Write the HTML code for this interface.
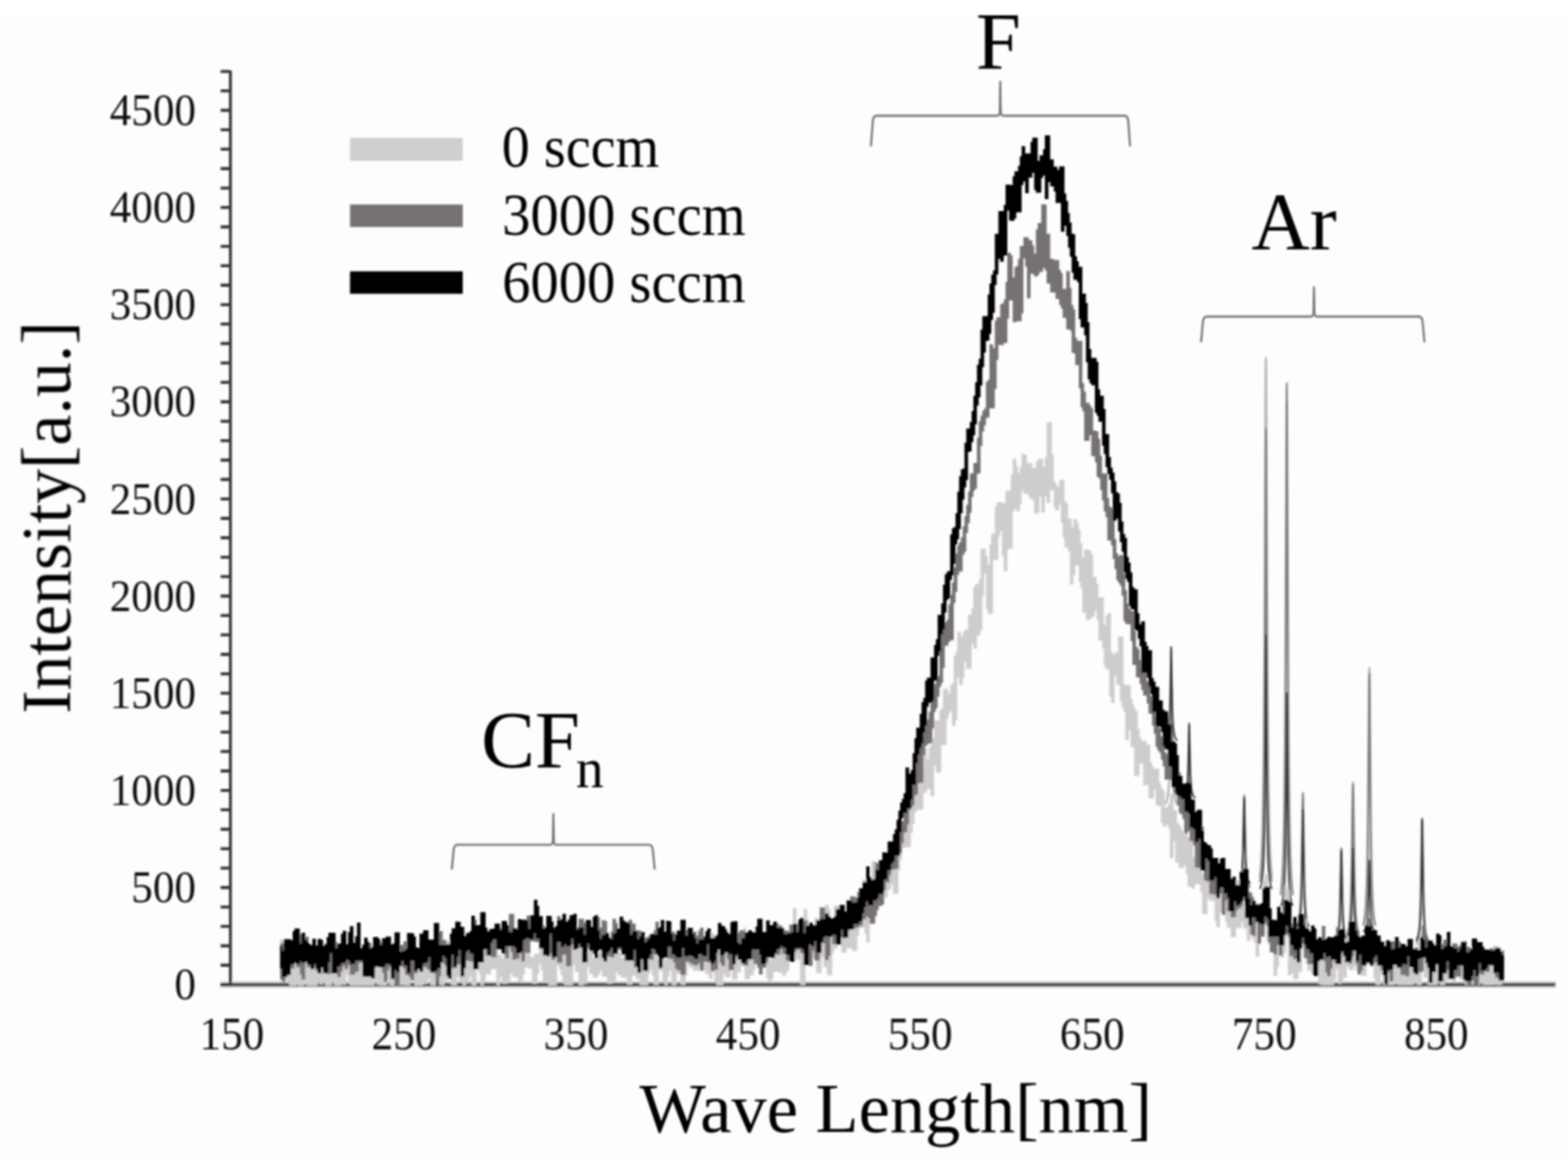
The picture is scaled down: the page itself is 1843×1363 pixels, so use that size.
<!DOCTYPE html><html><head><meta charset="utf-8"><title>OES spectrum</title><style>html,body{margin:0;padding:0;background:#fff;overflow:hidden}svg{display:block}</style></head><body><svg width="1843" height="1363" viewBox="0 0 1843 1363">
<rect width="1843" height="1363" fill="#fff"/>
<rect y="19.5" width="1843" height="1343.5" fill="#fdfdfd"/>
<defs><filter id="sf" x="-2%" y="-2%" width="104%" height="104%"><feGaussianBlur stdDeviation="0.8"/></filter></defs>
<g filter="url(#sf)">
<line x1="259.3" y1="1156.9" x2="1829" y2="1156.9" stroke="#c8c8c8" stroke-width="7.4"/>
<line x1="259.3" y1="1156.9" x2="1827.8" y2="1156.9" stroke="#4d4d4d" stroke-width="4"/>
<g>
<path d="M1369.6 945.2 1370.1 944.2 1370.6 943.0 1371.1 941.6 1371.6 939.9 1372.1 937.8 1372.6 935.1 1373.1 931.5 1373.6 926.7 1374.1 920.0 1374.6 910.3 1374.8 904.0 1375.1 896.6 1375.3 888.0 1375.6 878.6 1375.8 868.9 1376.1 860.2 1376.3 853.9 1376.6 851.6 1376.8 853.9 1377.1 860.2 1377.3 868.9 1377.6 878.6 1377.8 888.0 1378.1 896.6 1378.3 904.0 1378.6 910.3 1379.1 920.0 1379.6 926.7 1380.1 931.5 1380.6 935.1 1381.1 937.8 1381.6 939.9 1382.1 941.6 1382.6 943.0 1383.1 944.2 1383.6 945.2M1390.7 992.0 1391.2 991.1 1391.7 990.1 1392.2 988.9 1392.7 987.5 1393.2 985.8 1393.7 983.6 1394.2 980.8 1394.7 977.0 1395.2 971.6 1395.7 964.0 1396.0 959.1 1396.2 953.2 1396.5 946.5 1396.7 939.1 1397.0 931.5 1397.2 924.6 1397.5 919.7 1397.7 917.9 1398.0 919.7 1398.2 924.6 1398.5 931.5 1398.7 939.1 1399.0 946.5 1399.2 953.2 1399.5 959.1 1399.7 964.0 1400.2 971.6 1400.7 977.0 1401.2 980.8 1401.7 983.6 1402.2 985.8 1402.7 987.5 1403.2 988.9 1403.7 990.1 1404.2 991.1 1404.7 992.0M1455.4 1055.2 1455.9 1054.0 1456.4 1052.6 1456.9 1051.0 1457.4 1049.0 1457.9 1046.5 1458.4 1043.3 1458.9 1039.1 1459.4 1033.2 1459.9 1025.1 1460.4 1013.4 1460.7 1005.8 1460.9 996.8 1461.2 986.5 1461.4 975.1 1461.7 963.3 1461.9 952.7 1462.2 945.2 1462.4 942.4 1462.7 945.2 1462.9 952.7 1463.2 963.3 1463.4 975.1 1463.7 986.5 1463.9 996.8 1464.2 1005.8 1464.4 1013.4 1464.9 1025.1 1465.4 1033.2 1465.9 1039.1 1466.4 1043.3 1466.9 1046.5 1467.4 1049.0 1467.9 1051.0 1468.4 1052.6 1468.9 1054.0 1469.4 1055.2M1480.9 1031.2 1481.4 1026.1 1481.9 1019.8 1482.4 1012.1 1482.9 1002.3 1483.4 989.7 1483.9 973.1 1484.4 950.5 1484.9 919.3 1485.4 874.9 1485.9 811.0 1486.2 769.3 1486.4 720.1 1486.7 663.3 1486.9 600.5 1487.2 536.0 1487.4 477.7 1487.7 436.0 1487.9 420.7 1488.2 436.0 1488.4 477.7 1488.7 536.0 1488.9 600.5 1489.2 663.3 1489.4 720.1 1489.7 769.3 1489.9 811.0 1490.4 874.9 1490.9 919.3 1491.4 950.5 1491.9 973.1 1492.4 989.7 1492.9 1002.3 1493.4 1012.1 1493.9 1019.8 1494.4 1026.1 1494.9 1031.2M1505.5 1049.3 1506.0 1044.5 1506.5 1038.5 1507.0 1031.2 1507.5 1021.9 1508.0 1010.0 1508.5 994.2 1509.0 972.9 1509.5 943.4 1510.0 901.4 1510.5 841.1 1510.8 801.7 1511.0 755.1 1511.2 701.4 1511.5 642.0 1511.8 581.1 1512.0 525.9 1512.2 486.5 1512.5 472.1 1512.8 486.5 1513.0 525.9 1513.2 581.1 1513.5 642.0 1513.8 701.4 1514.0 755.1 1514.2 801.7 1514.5 841.1 1515.0 901.4 1515.5 943.4 1516.0 972.9 1516.5 994.2 1517.0 1010.0 1517.5 1021.9 1518.0 1031.2 1518.5 1038.5 1519.0 1044.5 1519.5 1049.3M1524.4 1094.4 1524.9 1092.9 1525.4 1091.0 1525.9 1088.9 1526.4 1086.2 1526.9 1082.8 1527.4 1078.4 1527.9 1072.6 1528.4 1064.5 1528.9 1053.2 1529.4 1036.9 1529.7 1026.3 1529.9 1013.8 1530.2 999.4 1530.4 983.4 1530.7 967.1 1530.9 952.3 1531.2 941.7 1531.4 937.8 1531.7 941.7 1531.9 952.3 1532.2 967.1 1532.4 983.4 1532.7 999.4 1532.9 1013.8 1533.2 1026.3 1533.4 1036.9 1533.9 1053.2 1534.4 1064.5 1534.9 1072.6 1535.4 1078.4 1535.9 1082.8 1536.4 1086.2 1536.9 1088.9 1537.4 1091.0 1537.9 1092.9 1538.4 1094.4M1569.6 1112.6 1570.1 1111.5 1570.6 1110.1 1571.1 1108.5 1571.6 1106.5 1572.1 1104.0 1572.6 1100.9 1573.1 1096.7 1573.6 1091.0 1574.1 1083.0 1574.6 1071.5 1574.8 1064.0 1575.1 1055.2 1575.3 1045.1 1575.6 1033.8 1575.8 1022.3 1576.1 1011.9 1576.3 1004.5 1576.6 1001.8 1576.8 1004.5 1577.1 1011.9 1577.3 1022.3 1577.6 1033.8 1577.8 1045.1 1578.1 1055.2 1578.3 1064.0 1578.6 1071.5 1579.1 1083.0 1579.6 1091.0 1580.1 1096.7 1580.6 1100.9 1581.1 1104.0 1581.6 1106.5 1582.1 1108.5 1582.6 1110.1 1583.1 1111.5 1583.6 1112.6M1583.3 1101.4 1583.8 1099.6 1584.3 1097.6 1584.8 1095.1 1585.3 1092.0 1585.8 1088.1 1586.3 1083.0 1586.8 1076.2 1587.3 1066.9 1587.8 1053.7 1588.3 1034.7 1588.5 1022.4 1588.8 1007.8 1589.0 991.0 1589.3 972.5 1589.5 953.4 1589.8 936.2 1590.0 923.8 1590.3 919.3 1590.5 923.8 1590.8 936.2 1591.0 953.4 1591.3 972.5 1591.5 991.0 1591.8 1007.8 1592.0 1022.4 1592.3 1034.7 1592.8 1053.7 1593.3 1066.9 1593.8 1076.2 1594.3 1083.0 1594.8 1088.1 1595.3 1092.0 1595.8 1095.1 1596.3 1097.6 1596.8 1099.6 1597.3 1101.4M1602.5 1088.2 1603.0 1085.5 1603.5 1082.2 1604.0 1078.2 1604.5 1073.3 1605.0 1066.9 1605.5 1058.6 1606.0 1047.3 1606.5 1031.8 1607.0 1009.8 1607.5 978.1 1607.8 957.5 1608.0 933.2 1608.2 905.0 1608.5 874.0 1608.8 842.1 1609.0 813.2 1609.2 792.6 1609.5 785.1 1609.8 792.6 1610.0 813.2 1610.2 842.1 1610.5 874.0 1610.8 905.0 1611.0 933.2 1611.2 957.5 1611.5 978.1 1612.0 1009.8 1612.5 1031.8 1613.0 1047.3 1613.5 1058.6 1614.0 1066.9 1614.5 1073.3 1615.0 1078.2 1615.5 1082.2 1616.0 1085.5 1616.5 1088.2M1664.6 1110.5 1665.1 1109.1 1665.6 1107.4 1666.1 1105.3 1666.6 1102.8 1667.1 1099.7 1667.6 1095.6 1668.1 1090.2 1668.6 1082.7 1669.1 1072.2 1669.6 1057.1 1669.8 1047.2 1670.1 1035.6 1670.3 1022.3 1670.6 1007.5 1670.8 992.3 1671.1 978.6 1671.3 968.8 1671.6 965.2 1671.8 968.8 1672.1 978.6 1672.3 992.3 1672.6 1007.5 1672.8 1022.3 1673.1 1035.6 1673.3 1047.2 1673.6 1057.1 1674.1 1072.2 1674.6 1082.7 1675.1 1090.2 1675.6 1095.6 1676.1 1099.7 1676.6 1102.8 1677.1 1105.3 1677.6 1107.4 1678.1 1109.1 1678.6 1110.5" fill="none" stroke="#b8b5b6" stroke-width="2.6" stroke-linejoin="round"/>
<path d="M1369.6 895.5 1370.1 894.7 1370.6 893.9 1371.1 892.8 1371.6 891.7 1372.1 890.2 1372.6 888.3 1373.1 885.8 1373.6 882.3 1374.1 877.1 1374.6 869.0 1374.8 863.3 1375.1 856.0 1375.3 846.8 1375.6 835.4 1375.8 822.1 1376.1 808.4 1376.3 797.5 1376.6 793.2 1376.8 797.5 1377.1 808.4 1377.3 822.1 1377.6 835.4 1377.8 846.8 1378.1 856.0 1378.3 863.3 1378.6 869.0 1379.1 877.1 1379.6 882.3 1380.1 885.8 1380.6 888.3 1381.1 890.2 1381.6 891.7 1382.1 892.8 1382.6 893.9 1383.1 894.7 1383.6 895.5M1390.7 956.6 1391.2 955.9 1391.7 955.2 1392.2 954.3 1392.7 953.3 1393.2 952.1 1393.7 950.5 1394.2 948.5 1394.7 945.6 1395.2 941.4 1395.7 934.9 1396.0 930.4 1396.2 924.5 1396.5 917.1 1396.7 908.0 1397.0 897.4 1397.2 886.5 1397.5 877.7 1397.7 874.3 1398.0 877.7 1398.2 886.5 1398.5 897.4 1398.7 908.0 1399.0 917.1 1399.2 924.5 1399.5 930.4 1399.7 934.9 1400.2 941.4 1400.7 945.6 1401.2 948.5 1401.7 950.5 1402.2 952.1 1402.7 953.3 1403.2 954.3 1403.7 955.2 1404.2 955.9 1404.7 956.6M1455.4 1042.6 1455.9 1041.8 1456.4 1040.9 1456.9 1039.8 1457.4 1038.6 1457.9 1037.0 1458.4 1035.0 1458.9 1032.4 1459.4 1028.7 1459.9 1023.2 1460.4 1014.6 1460.7 1008.6 1460.9 1000.9 1461.2 991.1 1461.4 979.1 1461.7 965.0 1461.9 950.5 1462.2 938.9 1462.4 934.4 1462.7 938.9 1462.9 950.5 1463.2 965.0 1463.4 979.1 1463.7 991.1 1463.9 1000.9 1464.2 1008.6 1464.4 1014.6 1464.9 1023.2 1465.4 1028.7 1465.9 1032.4 1466.4 1035.0 1466.9 1037.0 1467.4 1038.6 1467.9 1039.8 1468.4 1040.9 1468.9 1041.8 1469.4 1042.6M1480.9 1036.3 1481.4 1033.6 1481.9 1030.2 1482.4 1026.1 1482.9 1020.9 1483.4 1014.2 1483.9 1005.2 1484.4 992.6 1484.9 974.6 1485.4 947.6 1485.9 905.2 1486.2 875.1 1486.4 836.7 1486.7 787.9 1486.9 727.6 1487.2 657.3 1487.4 584.7 1487.7 526.7 1487.9 504.1 1488.2 526.7 1488.4 584.7 1488.7 657.3 1488.9 727.6 1489.2 787.9 1489.4 836.7 1489.7 875.1 1489.9 905.2 1490.4 947.6 1490.9 974.6 1491.4 992.6 1491.9 1005.2 1492.4 1014.2 1492.9 1020.9 1493.4 1026.1 1493.9 1030.2 1494.4 1033.6 1494.9 1036.3M1505.5 1052.0 1506.0 1048.9 1506.5 1045.2 1507.0 1040.6 1507.5 1034.8 1508.0 1027.2 1508.5 1017.0 1509.0 1002.8 1509.5 982.5 1510.0 951.9 1510.5 904.0 1510.8 869.9 1511.0 826.5 1511.2 771.3 1511.5 703.1 1511.8 623.5 1512.0 541.5 1512.2 475.8 1512.5 450.2 1512.8 475.8 1513.0 541.5 1513.2 623.5 1513.5 703.1 1513.8 771.3 1514.0 826.5 1514.2 869.9 1514.5 904.0 1515.0 951.9 1515.5 982.5 1516.0 1002.8 1516.5 1017.0 1517.0 1027.2 1517.5 1034.8 1518.0 1040.6 1518.5 1045.2 1519.0 1048.9 1519.5 1052.0M1524.4 1088.1 1524.9 1087.0 1525.4 1085.8 1525.9 1084.4 1526.4 1082.7 1526.9 1080.6 1527.4 1077.8 1527.9 1074.0 1528.4 1068.7 1528.9 1060.7 1529.4 1048.4 1529.7 1039.6 1529.9 1028.4 1530.2 1014.2 1530.4 996.6 1530.7 976.2 1530.9 955.1 1531.2 938.3 1531.4 931.7 1531.7 938.3 1531.9 955.1 1532.2 976.2 1532.4 996.6 1532.7 1014.2 1532.9 1028.4 1533.2 1039.6 1533.4 1048.4 1533.9 1060.7 1534.4 1068.7 1534.9 1074.0 1535.4 1077.8 1535.9 1080.6 1536.4 1082.7 1536.9 1084.4 1537.4 1085.8 1537.9 1087.0 1538.4 1088.1M1569.6 1105.0 1570.1 1104.1 1570.6 1103.2 1571.1 1102.2 1571.6 1100.9 1572.1 1099.4 1572.6 1097.4 1573.1 1094.7 1573.6 1091.0 1574.1 1085.5 1574.6 1076.9 1574.8 1070.8 1575.1 1063.1 1575.3 1053.3 1575.6 1041.3 1575.8 1027.2 1576.1 1012.7 1576.3 1001.0 1576.6 996.5 1576.8 1001.0 1577.1 1012.7 1577.3 1027.2 1577.6 1041.3 1577.8 1053.3 1578.1 1063.1 1578.3 1070.8 1578.6 1076.9 1579.1 1085.5 1579.6 1091.0 1580.1 1094.7 1580.6 1097.4 1581.1 1099.4 1581.6 1100.9 1582.1 1102.2 1582.6 1103.2 1583.1 1104.1 1583.6 1105.0M1583.3 1096.4 1583.8 1095.3 1584.3 1094.0 1584.8 1092.5 1585.3 1090.6 1585.8 1088.2 1586.3 1085.2 1586.8 1081.0 1587.3 1075.0 1587.8 1066.1 1588.3 1052.3 1588.5 1042.5 1588.8 1030.0 1589.0 1014.1 1589.3 994.5 1589.5 971.6 1589.8 948.1 1590.0 929.2 1590.3 921.9 1590.5 929.2 1590.8 948.1 1591.0 971.6 1591.3 994.5 1591.5 1014.1 1591.8 1030.0 1592.0 1042.5 1592.3 1052.3 1592.8 1066.1 1593.3 1075.0 1593.8 1081.0 1594.3 1085.2 1594.8 1088.2 1595.3 1090.6 1595.8 1092.5 1596.3 1094.0 1596.8 1095.3 1597.3 1096.4M1602.5 1086.9 1603.0 1085.2 1603.5 1083.2 1604.0 1080.8 1604.5 1077.9 1605.0 1074.0 1605.5 1068.9 1606.0 1061.9 1606.5 1051.9 1607.0 1036.9 1607.5 1013.4 1607.8 996.8 1608.0 975.5 1608.2 948.6 1608.5 915.2 1608.8 876.4 1609.0 836.3 1609.2 804.3 1609.5 791.7 1609.8 804.3 1610.0 836.3 1610.2 876.4 1610.5 915.2 1610.8 948.6 1611.0 975.5 1611.2 996.8 1611.5 1013.4 1612.0 1036.9 1612.5 1051.9 1613.0 1061.9 1613.5 1068.9 1614.0 1074.0 1614.5 1077.9 1615.0 1080.8 1615.5 1083.2 1616.0 1085.2 1616.5 1086.9M1664.6 1104.6 1665.1 1103.6 1665.6 1102.5 1666.1 1101.2 1666.6 1099.6 1667.1 1097.7 1667.6 1095.1 1668.1 1091.7 1668.6 1086.8 1669.1 1079.5 1669.6 1068.2 1669.8 1060.1 1670.1 1049.9 1670.3 1036.9 1670.6 1020.9 1670.8 1002.2 1671.1 983.0 1671.3 967.6 1671.6 961.6 1671.8 967.6 1672.1 983.0 1672.3 1002.2 1672.6 1020.9 1672.8 1036.9 1673.1 1049.9 1673.3 1060.1 1673.6 1068.2 1674.1 1079.5 1674.6 1086.8 1675.1 1091.7 1675.6 1095.1 1676.1 1097.7 1676.6 1099.6 1677.1 1101.2 1677.6 1102.5 1678.1 1103.6 1678.6 1104.6" fill="none" stroke="#7f7a7b" stroke-width="2.0" stroke-linejoin="round"/>
<path d="M1369.6 870.2 1370.1 869.5 1370.6 868.8 1371.1 867.9 1371.6 866.9 1372.1 865.8 1372.6 864.2 1373.1 862.2 1373.6 859.4 1374.1 855.1 1374.6 848.2 1374.8 843.1 1375.1 836.3 1375.3 827.2 1375.6 815.1 1375.8 799.8 1376.1 782.2 1376.3 766.7 1376.6 760.3 1376.8 766.7 1377.1 782.2 1377.3 799.8 1377.6 815.1 1377.8 827.2 1378.1 836.3 1378.3 843.1 1378.6 848.2 1379.1 855.1 1379.6 859.4 1380.1 862.2 1380.6 864.2 1381.1 865.8 1381.6 866.9 1382.1 867.9 1382.6 868.8 1383.1 869.5 1383.6 870.2M1390.7 937.7 1391.2 937.1 1391.7 936.4 1392.2 935.7 1392.7 934.9 1393.2 933.9 1393.7 932.6 1394.2 931.0 1394.7 928.7 1395.2 925.3 1395.7 919.8 1396.0 915.7 1396.2 910.3 1396.5 903.1 1396.7 893.6 1397.0 881.4 1397.2 867.5 1397.5 855.3 1397.7 850.2 1398.0 855.3 1398.2 867.5 1398.5 881.4 1398.7 893.6 1399.0 903.1 1399.2 910.3 1399.5 915.7 1399.7 919.8 1400.2 925.3 1400.7 928.7 1401.2 931.0 1401.7 932.6 1402.2 933.9 1402.7 934.9 1403.2 935.7 1403.7 936.4 1404.2 937.1 1404.7 937.7M1455.4 1038.3 1455.9 1037.6 1456.4 1036.9 1456.9 1036.1 1457.4 1035.2 1457.9 1034.1 1458.4 1032.7 1458.9 1030.9 1459.4 1028.2 1459.9 1024.3 1460.4 1018.0 1460.7 1013.3 1460.9 1007.1 1461.2 998.8 1461.4 987.9 1461.7 973.8 1461.9 957.8 1462.2 943.7 1462.4 937.8 1462.7 943.7 1462.9 957.8 1463.2 973.8 1463.4 987.9 1463.7 998.8 1463.9 1007.1 1464.2 1013.3 1464.4 1018.0 1464.9 1024.3 1465.4 1028.2 1465.9 1030.9 1466.4 1032.7 1466.9 1034.1 1467.4 1035.2 1467.9 1036.1 1468.4 1036.9 1468.9 1037.6 1469.4 1038.3M1480.9 1044.5 1481.4 1043.2 1481.9 1041.7 1482.4 1039.9 1482.9 1037.7 1483.4 1034.9 1483.9 1031.1 1484.4 1025.9 1484.9 1018.3 1485.4 1006.7 1485.9 987.8 1486.2 973.9 1486.4 955.2 1486.7 930.3 1486.9 897.1 1487.2 854.8 1487.4 806.5 1487.7 763.8 1487.9 746.1 1488.2 763.8 1488.4 806.5 1488.7 854.8 1488.9 897.1 1489.2 930.3 1489.4 955.2 1489.7 973.9 1489.9 987.8 1490.4 1006.7 1490.9 1018.3 1491.4 1025.9 1491.9 1031.1 1492.4 1034.9 1492.9 1037.7 1493.4 1039.9 1493.9 1041.7 1494.4 1043.2 1494.9 1044.5M1505.5 1064.3 1506.0 1063.2 1506.5 1061.9 1507.0 1060.3 1507.5 1058.4 1508.0 1056.0 1508.5 1052.8 1509.0 1048.5 1509.5 1042.1 1510.0 1032.4 1510.5 1016.6 1510.8 1004.9 1511.0 989.4 1511.2 968.5 1511.5 940.8 1511.8 905.4 1512.0 865.0 1512.2 829.4 1512.5 814.5 1512.8 829.4 1513.0 865.0 1513.2 905.4 1513.5 940.8 1513.8 968.5 1514.0 989.4 1514.2 1004.9 1514.5 1016.6 1515.0 1032.4 1515.5 1042.1 1516.0 1048.5 1516.5 1052.8 1517.0 1056.0 1517.5 1058.4 1518.0 1060.3 1518.5 1061.9 1519.0 1063.2 1519.5 1064.3M1524.4 1088.7 1524.9 1087.9 1525.4 1087.0 1525.9 1086.0 1526.4 1084.9 1526.9 1083.5 1527.4 1081.6 1527.9 1079.2 1528.4 1075.6 1528.9 1070.3 1529.4 1061.6 1529.7 1055.2 1529.9 1046.7 1530.2 1035.4 1530.4 1020.3 1530.7 1001.0 1530.9 979.0 1531.2 959.6 1531.4 951.5 1531.7 959.6 1531.9 979.0 1532.2 1001.0 1532.4 1020.3 1532.7 1035.4 1532.9 1046.7 1533.2 1055.2 1533.4 1061.6 1533.9 1070.3 1534.4 1075.6 1534.9 1079.2 1535.4 1081.6 1535.9 1083.5 1536.4 1084.9 1536.9 1086.0 1537.4 1087.0 1537.9 1087.9 1538.4 1088.7M1569.6 1104.9 1570.1 1104.2 1570.6 1103.5 1571.1 1102.6 1571.6 1101.7 1572.1 1100.6 1572.6 1099.1 1573.1 1097.2 1573.6 1094.4 1574.1 1090.3 1574.6 1083.7 1574.8 1078.8 1575.1 1072.3 1575.3 1063.6 1575.6 1052.0 1575.8 1037.3 1576.1 1020.5 1576.3 1005.7 1576.6 999.5 1576.8 1005.7 1577.1 1020.5 1577.3 1037.3 1577.6 1052.0 1577.8 1063.6 1578.1 1072.3 1578.3 1078.8 1578.6 1083.7 1579.1 1090.3 1579.6 1094.4 1580.1 1097.2 1580.6 1099.1 1581.1 1100.6 1581.6 1101.7 1582.1 1102.6 1582.6 1103.5 1583.1 1104.2 1583.6 1104.9M1583.3 1099.4 1583.8 1098.7 1584.3 1098.0 1584.8 1097.2 1585.3 1096.3 1585.8 1095.2 1586.3 1093.7 1586.8 1091.9 1587.3 1089.2 1587.8 1085.2 1588.3 1078.8 1588.5 1074.0 1588.8 1067.7 1589.0 1059.3 1589.3 1048.1 1589.5 1033.8 1589.8 1017.5 1590.0 1003.2 1590.3 997.2 1590.5 1003.2 1590.8 1017.5 1591.0 1033.8 1591.3 1048.1 1591.5 1059.3 1591.8 1067.7 1592.0 1074.0 1592.3 1078.8 1592.8 1085.2 1593.3 1089.2 1593.8 1091.9 1594.3 1093.7 1594.8 1095.2 1595.3 1096.3 1595.8 1097.2 1596.3 1098.0 1596.8 1098.7 1597.3 1099.4M1602.5 1094.8 1603.0 1094.2 1603.5 1093.5 1604.0 1092.8 1604.5 1092.0 1605.0 1091.1 1605.5 1089.9 1606.0 1088.3 1606.5 1086.1 1607.0 1082.8 1607.5 1077.5 1607.8 1073.6 1608.0 1068.5 1608.2 1061.6 1608.5 1052.5 1608.8 1040.8 1609.0 1027.5 1609.2 1015.8 1609.5 1010.9 1609.8 1015.8 1610.0 1027.5 1610.2 1040.8 1610.5 1052.5 1610.8 1061.6 1611.0 1068.5 1611.2 1073.6 1611.5 1077.5 1612.0 1082.8 1612.5 1086.1 1613.0 1088.3 1613.5 1089.9 1614.0 1091.1 1614.5 1092.0 1615.0 1092.8 1615.5 1093.5 1616.0 1094.2 1616.5 1094.8M1664.6 1106.0 1665.1 1105.2 1665.6 1104.3 1666.1 1103.3 1666.6 1102.1 1667.1 1100.6 1667.6 1098.7 1668.1 1096.2 1668.6 1092.5 1669.1 1086.9 1669.6 1077.9 1669.8 1071.2 1670.1 1062.3 1670.3 1050.5 1670.6 1034.7 1670.8 1014.6 1671.1 991.6 1671.3 971.4 1671.6 962.9 1671.8 971.4 1672.1 991.6 1672.3 1014.6 1672.6 1034.7 1672.8 1050.5 1673.1 1062.3 1673.3 1071.2 1673.6 1077.9 1674.1 1086.9 1674.6 1092.5 1675.1 1096.2 1675.6 1098.7 1676.1 1100.6 1676.6 1102.1 1677.1 1103.3 1677.6 1104.3 1678.1 1105.2 1678.6 1106.0" fill="none" stroke="#333" stroke-width="1.9" stroke-linejoin="round"/>
<path d="M329.3 1104.0h2.1v40.4h-2.1zm2.1 0.0h2.1v40.4h-2.1zm2.1 0.0h2.1v34.3h-2.1zm2.1 1.7h2.1v45.7h-2.1zm2.1 0.0h2.1v48.3h-2.1zm2.1 20.9h2.1v32.0h-2.1zm2.1 8.5h2.1v23.4h-2.1zm2.1 0.0h2.1v23.4h-2.1zm2.1 -1.9h2.1v25.3h-2.1zm2.1 -5.2h2.1v29.3h-2.1zm2.1 0.0h2.1v30.5h-2.1zm2.1 14.0h2.1v16.4h-2.1zm2.1 -4.9h2.1v21.3h-2.1zm2.1 -15.3h2.1v35.3h-2.1zm2.1 -18.7h2.1v54.0h-2.1zm2.1 0.0h2.1v55.3h-2.1zm2.1 30.3h2.1v25.0h-2.1zm2.1 0.0h2.1v25.0h-2.1zm2.1 3.7h2.1v21.3h-2.1zm2.1 -4.5h2.1v25.7h-2.1zm2.1 -2.3h2.1v28.1h-2.1zm2.1 -2.9h2.1v28.2h-2.1zm2.1 0.0h2.1v29.6h-2.1zm2.1 14.1h2.1v15.5h-2.1zm2.1 -4.6h2.1v16.7h-2.1zm2.1 0.0h2.1v21.5h-2.1zm2.1 -4.9h2.1v26.4h-2.1zm2.1 0.0h2.1v26.4h-2.1zm2.1 -12.0h2.1v38.4h-2.1zm2.1 0.0h2.1v33.6h-2.1zm2.1 10.9h2.1v27.4h-2.1zm2.1 0.0h2.1v27.4h-2.1zm2.1 0.9h2.1v26.5h-2.1zm2.1 -0.5h2.1v27.0h-2.1zm2.1 0.0h2.1v26.0h-2.1zm2.1 -18.0h2.1v43.9h-2.1zm2.1 0.0h2.1v43.9h-2.1zm2.1 0.0h2.1v32.7h-2.1zm2.1 9.6h2.1v33.6h-2.1zm2.1 0.0h2.1v35.3h-2.1zm2.1 4.3h2.1v31.0h-2.1zm2.1 10.9h2.1v20.1h-2.1zm2.1 -10.1h2.1v30.2h-2.1zm2.1 -17.7h2.1v47.8h-2.1zm2.1 0.0h2.1v47.8h-2.1zm2.1 8.2h2.1v39.6h-2.1zm2.1 14.6h2.1v25.0h-2.1zm2.1 4.2h2.1v20.8h-2.1zm2.1 3.3h2.1v17.5h-2.1zm2.1 -6.4h2.1v23.9h-2.1zm2.1 0.0h2.1v23.9h-2.1zm2.1 0.0h2.1v23.9h-2.1zm2.1 -1.3h2.1v25.2h-2.1zm2.1 -11.4h2.1v31.1h-2.1zm2.1 -5.7h2.1v41.7h-2.1zm2.1 0.0h2.1v41.7h-2.1zm2.1 0.0h2.1v42.3h-2.1zm2.1 3.1h2.1v39.2h-2.1zm2.1 6.3h2.1v32.9h-2.1zm2.1 12.7h2.1v20.2h-2.1zm2.1 0.0h2.1v13.5h-2.1zm2.1 -5.1h2.1v25.2h-2.1zm2.1 -1.4h2.1v26.6h-2.1zm2.1 0.0h2.1v26.6h-2.1zm2.1 -3.3h2.1v29.9h-2.1zm2.1 -2.7h2.1v32.6h-2.1zm2.1 0.0h2.1v32.6h-2.1zm2.1 4.1h2.1v28.5h-2.1zm2.1 0.0h2.1v27.4h-2.1zm2.1 -4.1h2.1v32.6h-2.1zm2.1 -0.9h2.1v33.4h-2.1zm2.1 -2.9h2.1v36.4h-2.1zm2.1 -15.2h2.1v51.6h-2.1zm2.1 0.0h2.1v40.8h-2.1zm2.1 15.6h2.1v27.3h-2.1zm2.1 6.1h2.1v29.8h-2.1zm2.1 11.2h2.1v18.7h-2.1zm2.1 -8.5h2.1v27.2h-2.1zm2.1 0.0h2.1v27.2h-2.1zm2.1 -5.9h2.1v33.0h-2.1zm2.1 -15.8h2.1v47.5h-2.1zm2.1 0.0h2.1v47.5h-2.1zm2.1 0.0h2.1v46.9h-2.1zm2.1 16.5h2.1v24.7h-2.1zm2.1 0.0h2.1v32.3h-2.1zm2.1 -7.4h2.1v39.7h-2.1zm2.1 0.0h2.1v39.7h-2.1zm2.1 -0.6h2.1v37.1h-2.1zm2.1 0.0h2.1v35.5h-2.1zm2.1 0.0h2.1v40.0h-2.1zm2.1 7.5h2.1v32.8h-2.1zm2.1 0.0h2.1v32.8h-2.1zm2.1 -14.3h2.1v41.4h-2.1zm2.1 -5.2h2.1v46.6h-2.1zm2.1 0.0h2.1v43.5h-2.1zm2.1 10.0h2.1v40.8h-2.1zm2.1 3.8h2.1v38.5h-2.1zm2.1 3.0h2.1v35.6h-2.1zm2.1 -15.1h2.1v50.7h-2.1zm2.1 0.0h2.1v40.5h-2.1zm2.1 5.4h2.1v40.7h-2.1zm2.1 -7.0h2.1v47.8h-2.1zm2.1 0.0h2.1v52.3h-2.1zm2.1 0.0h2.1v52.3h-2.1zm2.1 2.4h2.1v47.3h-2.1zm2.1 -7.6h2.1v54.9h-2.1zm2.1 0.0h2.1v47.1h-2.1zm2.1 9.9h2.1v47.6h-2.1zm2.1 17.8h2.1v29.9h-2.1zm2.1 -3.0h2.1v32.9h-2.1zm2.1 -0.7h2.1v12.7h-2.1zm2.1 0.0h2.1v19.3h-2.1zm2.1 -27.9h2.1v61.5h-2.1zm2.1 0.0h2.1v61.5h-2.1zm2.1 0.0h2.1v58.1h-2.1zm2.1 5.4h2.1v42.8h-2.1zm2.1 15.9h2.1v26.8h-2.1zm2.1 -0.5h2.1v27.3h-2.1zm2.1 -19.4h2.1v40.7h-2.1zm2.1 0.0h2.1v40.7h-2.1zm2.1 10.4h2.1v30.3h-2.1zm2.1 0.0h2.1v49.6h-2.1zm2.1 13.7h2.1v35.9h-2.1zm2.1 0.0h2.1v26.1h-2.1zm2.1 4.4h2.1v29.5h-2.1zm2.1 -5.7h2.1v35.2h-2.1zm2.1 -1.8h2.1v37.0h-2.1zm2.1 -10.8h2.1v44.4h-2.1zm2.1 -6.3h2.1v50.7h-2.1zm2.1 0.0h2.1v41.6h-2.1zm2.1 12.0h2.1v34.3h-2.1zm2.1 0.0h2.1v34.3h-2.1zm2.1 10.1h2.1v24.2h-2.1zm2.1 0.0h2.1v29.6h-2.1zm2.1 -15.3h2.1v44.9h-2.1zm2.1 -0.4h2.1v44.0h-2.1zm2.1 0.0h2.1v36.2h-2.1zm2.1 -9.7h2.1v38.1h-2.1zm2.1 0.0h2.1v38.1h-2.1zm2.1 0.0h2.1v40.0h-2.1zm2.1 25.5h2.1v14.5h-2.1zm2.1 0.9h2.1v31.1h-2.1zm2.1 -4.6h2.1v35.7h-2.1zm2.1 0.0h2.1v35.7h-2.1zm2.1 0.0h2.1v23.9h-2.1zm2.1 -10.9h2.1v23.6h-2.1zm2.1 0.0h2.1v30.9h-2.1zm2.1 0.0h2.1v45.2h-2.1zm2.1 0.2h2.1v45.0h-2.1zm2.1 0.0h2.1v43.0h-2.1zm2.1 2.5h2.1v45.8h-2.1zm2.1 -2.6h2.1v48.3h-2.1zm2.1 0.0h2.1v48.3h-2.1zm2.1 -12.1h2.1v60.4h-2.1zm2.1 -4.1h2.1v64.4h-2.1zm2.1 0.0h2.1v40.9h-2.1zm2.1 5.7h2.1v39.8h-2.1zm2.1 2.4h2.1v44.4h-2.1zm2.1 0.0h2.1v54.2h-2.1zm2.1 0.0h2.1v56.3h-2.1zm2.1 14.3h2.1v42.0h-2.1zm2.1 0.0h2.1v42.0h-2.1zm2.1 -7.2h2.1v49.2h-2.1zm2.1 -4.8h2.1v54.0h-2.1zm2.1 0.0h2.1v29.8h-2.1zm2.1 3.0h2.1v35.3h-2.1zm2.1 -2.9h2.1v38.2h-2.1zm2.1 0.0h2.1v53.8h-2.1zm2.1 0.0h2.1v53.8h-2.1zm2.1 8.7h2.1v45.1h-2.1zm2.1 6.2h2.1v37.4h-2.1zm2.1 0.0h2.1v37.4h-2.1zm2.1 -1.1h2.1v18.6h-2.1zm2.1 -0.9h2.1v27.5h-2.1zm2.1 0.0h2.1v27.5h-2.1zm2.1 8.7h2.1v22.9h-2.1zm2.1 -6.3h2.1v29.2h-2.1zm2.1 0.0h2.1v29.2h-2.1zm2.1 0.0h2.1v26.0h-2.1zm2.1 -14.7h2.1v35.8h-2.1zm2.1 0.0h2.1v42.8h-2.1zm2.1 7.0h2.1v36.5h-2.1zm2.1 11.2h2.1v25.2h-2.1zm2.1 -2.0h2.1v35.3h-2.1zm2.1 0.0h2.1v35.3h-2.1zm2.1 2.4h2.1v32.9h-2.1zm2.1 -17.6h2.1v47.2h-2.1zm2.1 -18.2h2.1v65.3h-2.1zm2.1 0.0h2.1v55.3h-2.1zm2.1 31.3h2.1v27.4h-2.1zm2.1 1.4h2.1v26.1h-2.1zm2.1 5.7h2.1v23.3h-2.1zm2.1 -6.5h2.1v29.8h-2.1zm2.1 0.0h2.1v29.8h-2.1zm2.1 5.1h2.1v32.8h-2.1zm2.1 2.7h2.1v30.1h-2.1zm2.1 -3.5h2.1v33.5h-2.1zm2.1 -4.0h2.1v26.7h-2.1zm2.1 0.0h2.1v26.7h-2.1zm2.1 -1.5h2.1v31.9h-2.1zm2.1 -5.1h2.1v37.0h-2.1zm2.1 -18.7h2.1v63.6h-2.1zm2.1 0.0h2.1v63.6h-2.1zm2.1 28.7h2.1v34.8h-2.1zm2.1 10.5h2.1v24.3h-2.1zm2.1 -14.5h2.1v38.8h-2.1zm2.1 0.0h2.1v26.2h-2.1zm2.1 -10.8h2.1v31.9h-2.1zm2.1 -1.2h2.1v39.3h-2.1zm2.1 0.0h2.1v50.7h-2.1zm2.1 0.0h2.1v50.7h-2.1zm2.1 19.3h2.1v31.5h-2.1zm2.1 -10.1h2.1v23.9h-2.1zm2.1 0.0h2.1v25.5h-2.1zm2.1 6.0h2.1v31.3h-2.1zm2.1 6.0h2.1v29.6h-2.1zm2.1 -41.4h2.1v71.0h-2.1zm2.1 0.0h2.1v60.2h-2.1zm2.1 0.0h2.1v54.0h-2.1zm2.1 17.7h2.1v53.3h-2.1zm2.1 12.2h2.1v41.1h-2.1zm2.1 0.0h2.1v41.1h-2.1zm2.1 -12.1h2.1v39.4h-2.1zm2.1 0.0h2.1v39.4h-2.1zm2.1 0.5h2.1v52.2h-2.1zm2.1 23.1h2.1v29.1h-2.1zm2.1 -16.1h2.1v45.2h-2.1zm2.1 0.0h2.1v34.0h-2.1zm2.1 -15.8h2.1v37.4h-2.1zm2.1 0.0h2.1v40.9h-2.1zm2.1 22.4h2.1v18.5h-2.1zm2.1 2.6h2.1v19.2h-2.1zm2.1 5.7h2.1v13.4h-2.1zm2.1 -11.0h2.1v24.5h-2.1zm2.1 -3.3h2.1v27.6h-2.1zm2.1 -1.5h2.1v25.1h-2.1zm2.1 0.0h2.1v29.4h-2.1zm2.1 9.1h2.1v20.2h-2.1zm2.1 0.0h2.1v24.5h-2.1zm2.1 1.9h2.1v22.6h-2.1zm2.1 -15.4h2.1v43.0h-2.1zm2.1 -10.3h2.1v53.3h-2.1zm2.1 0.0h2.1v46.0h-2.1zm2.1 14.0h2.1v43.3h-2.1zm2.1 2.4h2.1v44.9h-2.1zm2.1 0.5h2.1v44.4h-2.1zm2.1 2.3h2.1v42.1h-2.1zm2.1 -24.6h2.1v66.7h-2.1zm2.1 0.0h2.1v53.2h-2.1zm2.1 7.6h2.1v49.9h-2.1zm2.1 2.7h2.1v47.2h-2.1zm2.1 -3.9h2.1v51.2h-2.1zm2.1 0.0h2.1v41.8h-2.1zm2.1 0.8h2.1v52.9h-2.1zm2.1 18.1h2.1v34.8h-2.1zm2.1 0.5h2.1v34.3h-2.1zm2.1 0.0h2.1v25.7h-2.1zm2.1 -1.3h2.1v27.0h-2.1zm2.1 -15.0h2.1v34.5h-2.1zm2.1 -10.1h2.1v34.5h-2.1zm2.1 0.0h2.1v60.0h-2.1zm2.1 21.4h2.1v38.6h-2.1zm2.1 11.4h2.1v27.2h-2.1zm2.1 2.5h2.1v20.3h-2.1zm2.1 -29.8h2.1v50.1h-2.1zm2.1 -2.7h2.1v46.3h-2.1zm2.1 0.0h2.1v33.0h-2.1zm2.1 15.0h2.1v22.3h-2.1zm2.1 0.0h2.1v26.2h-2.1zm2.1 -1.8h2.1v27.9h-2.1zm2.1 -9.4h2.1v37.3h-2.1zm2.1 0.0h2.1v31.6h-2.1zm2.1 8.1h2.1v44.2h-2.1zm2.1 11.1h2.1v37.3h-2.1zm2.1 11.6h2.1v25.6h-2.1zm2.1 -16.0h2.1v38.9h-2.1zm2.1 0.0h2.1v30.0h-2.1zm2.1 -18.3h2.1v48.3h-2.1zm2.1 0.0h2.1v48.3h-2.1zm2.1 2.8h2.1v46.6h-2.1zm2.1 10.7h2.1v35.9h-2.1zm2.1 -13.7h2.1v53.5h-2.1zm2.1 0.0h2.1v53.5h-2.1zm2.1 0.0h2.1v49.4h-2.1zm2.1 13.8h2.1v32.9h-2.1zm2.1 -20.6h2.1v31.4h-2.1zm2.1 0.0h2.1v29.9h-2.1zm2.1 -19.5h2.1v44.0h-2.1zm2.1 0.0h2.1v60.6h-2.1zm2.1 30.4h2.1v30.1h-2.1zm2.1 -2.4h2.1v32.5h-2.1zm2.1 0.0h2.1v62.6h-2.1zm2.1 -0.1h2.1v62.7h-2.1zm2.1 -26.7h2.1v89.3h-2.1zm2.1 0.0h2.1v47.4h-2.1zm2.1 12.6h2.1v40.8h-2.1zm2.1 4.2h2.1v36.7h-2.1zm2.1 0.0h2.1v40.0h-2.1zm2.1 8.0h2.1v32.0h-2.1zm2.1 -14.8h2.1v49.3h-2.1zm2.1 0.0h2.1v65.1h-2.1zm2.1 1.8h2.1v63.3h-2.1zm2.1 0.0h2.1v63.3h-2.1zm2.1 0.0h2.1v44.6h-2.1zm2.1 5.9h2.1v50.8h-2.1zm2.1 -23.0h2.1v73.7h-2.1zm2.1 0.0h2.1v82.8h-2.1zm2.1 4.5h2.1v78.4h-2.1zm2.1 21.4h2.1v56.9h-2.1zm2.1 0.0h2.1v31.2h-2.1zm2.1 -24.8h2.1v50.6h-2.1zm2.1 0.0h2.1v50.6h-2.1zm2.1 0.0h2.1v43.6h-2.1zm2.1 3.9h2.1v32.4h-2.1zm2.1 0.0h2.1v51.4h-2.1zm2.1 3.1h2.1v48.3h-2.1zm2.1 0.0h2.1v48.3h-2.1zm2.1 -4.5h2.1v47.8h-2.1zm2.1 -5.0h2.1v52.7h-2.1zm2.1 0.0h2.1v52.7h-2.1zm2.1 9.7h2.1v46.1h-2.1zm2.1 -9.8h2.1v55.8h-2.1zm2.1 0.0h2.1v55.8h-2.1zm2.1 1.5h2.1v36.6h-2.1zm2.1 3.2h2.1v24.4h-2.1zm2.1 -3.1h2.1v27.0h-2.1zm2.1 -29.4h2.1v56.4h-2.1zm2.1 0.0h2.1v62.8h-2.1zm2.1 0.0h2.1v73.6h-2.1zm2.1 11.5h2.1v62.1h-2.1zm2.1 0.0h2.1v27.7h-2.1zm2.1 -33.0h2.1v60.7h-2.1zm2.1 0.0h2.1v56.5h-2.1zm2.1 0.0h2.1v56.5h-2.1zm2.1 28.1h2.1v28.4h-2.1zm2.1 -12.9h2.1v34.4h-2.1zm2.1 -3.8h2.1v34.6h-2.1zm2.1 0.0h2.1v34.6h-2.1zm2.1 0.7h2.1v30.5h-2.1zm2.1 -21.9h2.1v52.4h-2.1zm2.1 -0.8h2.1v45.1h-2.1zm2.1 0.0h2.1v43.3h-2.1zm2.1 0.0h2.1v37.5h-2.1zm2.1 -10.6h2.1v59.3h-2.1zm2.1 0.0h2.1v59.3h-2.1zm2.1 0.0h2.1v59.3h-2.1zm2.1 -23.4h2.1v55.1h-2.1zm2.1 -0.6h2.1v43.2h-2.1zm2.1 -2.9h2.1v32.7h-2.1zm2.1 -29.3h2.1v61.2h-2.1zm2.1 0.0h2.1v60.5h-2.1zm2.1 -4.5h2.1v65.0h-2.1zm2.1 -11.2h2.1v76.2h-2.1zm2.1 0.0h2.1v59.7h-2.1zm2.1 16.6h2.1v32.7h-2.1zm2.1 -16.0h2.1v35.5h-2.1zm2.1 -3.8h2.1v36.1h-2.1zm2.1 0.0h2.1v35.8h-2.1zm2.1 -7.6h2.1v43.4h-2.1zm2.1 -5.5h2.1v48.9h-2.1zm2.1 -23.6h2.1v52.4h-2.1zm2.1 0.0h2.1v52.4h-2.1zm2.1 12.8h2.1v35.2h-2.1zm2.1 -13.7h2.1v48.9h-2.1zm2.1 -4.2h2.1v61.5h-2.1zm2.1 -6.5h2.1v68.0h-2.1zm2.1 -21.0h2.1v52.8h-2.1zm2.1 0.0h2.1v61.3h-2.1zm2.1 0.1h2.1v61.2h-2.1zm2.1 -12.1h2.1v73.3h-2.1zm2.1 -2.6h2.1v44.2h-2.1zm2.1 -22.4h2.1v65.8h-2.1zm2.1 0.0h2.1v65.8h-2.1zm2.1 0.0h2.1v35.5h-2.1zm2.1 5.4h2.1v23.9h-2.1zm2.1 -10.0h2.1v30.7h-2.1zm2.1 -1.9h2.1v49.7h-2.1zm2.1 -32.3h2.1v82.0h-2.1zm2.1 -4.5h2.1v80.2h-2.1zm2.1 -23.9h2.1v53.9h-2.1zm2.1 0.0h2.1v62.5h-2.1zm2.1 6.2h2.1v56.3h-2.1zm2.1 -5.7h2.1v53.8h-2.1zm2.1 -2.8h2.1v38.1h-2.1zm2.1 0.0h2.1v46.1h-2.1zm2.1 -18.1h2.1v64.2h-2.1zm2.1 0.0h2.1v64.2h-2.1zm2.1 -7.5h2.1v42.2h-2.1zm2.1 -24.4h2.1v72.2h-2.1zm2.1 -4.1h2.1v76.3h-2.1zm2.1 0.0h2.1v60.9h-2.1zm2.1 -5.2h2.1v65.9h-2.1zm2.1 -36.0h2.1v96.1h-2.1zm2.1 0.0h2.1v55.8h-2.1zm2.1 0.0h2.1v29.6h-2.1zm2.1 8.3h2.1v62.5h-2.1zm2.1 10.6h2.1v57.8h-2.1zm2.1 -24.1h2.1v81.8h-2.1zm2.1 -12.4h2.1v94.2h-2.1zm2.1 0.0h2.1v30.8h-2.1zm2.1 -31.6h2.1v62.4h-2.1zm2.1 -5.5h2.1v67.8h-2.1zm2.1 0.0h2.1v40.4h-2.1zm2.1 0.0h2.1v33.9h-2.1zm2.1 1.1h2.1v62.2h-2.1zm2.1 0.0h2.1v80.3h-2.1zm2.1 -14.3h2.1v94.6h-2.1zm2.1 0.0h2.1v68.9h-2.1zm2.1 -1.1h2.1v69.0h-2.1zm2.1 -18.1h2.1v87.1h-2.1zm2.1 -18.5h2.1v61.6h-2.1zm2.1 0.0h2.1v58.7h-2.1zm2.1 8.7h2.1v53.1h-2.1zm2.1 7.8h2.1v45.4h-2.1zm2.1 -7.0h2.1v43.8h-2.1zm2.1 -15.2h2.1v43.2h-2.1zm2.1 0.0h2.1v46.8h-2.1zm2.1 1.1h2.1v45.9h-2.1zm2.1 9.8h2.1v36.1h-2.1zm2.1 0.0h2.1v40.4h-2.1zm2.1 0.0h2.1v41.6h-2.1zm2.1 5.4h2.1v38.3h-2.1zm2.1 0.4h2.1v53.6h-2.1zm2.1 -7.7h2.1v61.3h-2.1zm2.1 -3.1h2.1v62.9h-2.1zm2.1 0.0h2.1v44.3h-2.1zm2.1 0.0h2.1v62.8h-2.1zm2.1 9.2h2.1v53.6h-2.1zm2.1 -10.9h2.1v45.8h-2.1zm2.1 -41.0h2.1v94.4h-2.1zm2.1 -0.9h2.1v95.3h-2.1zm2.1 0.0h2.1v79.9h-2.1zm2.1 38.4h2.1v42.5h-2.1zm2.1 31.8h2.1v30.5h-2.1zm2.1 3.3h2.1v30.5h-2.1zm2.1 3.4h2.1v27.1h-2.1zm2.1 -8.8h2.1v29.0h-2.1zm2.1 0.0h2.1v50.6h-2.1zm2.1 0.0h2.1v68.1h-2.1zm2.1 24.9h2.1v54.8h-2.1zm2.1 2.3h2.1v52.6h-2.1zm2.1 18.2h2.1v38.8h-2.1zm2.1 0.0h2.1v77.4h-2.1zm2.1 10.1h2.1v67.3h-2.1zm2.1 -9.2h2.1v65.7h-2.1zm2.1 0.0h2.1v53.9h-2.1zm2.1 4.5h2.1v50.3h-2.1zm2.1 7.9h2.1v61.3h-2.1zm2.1 16.0h2.1v53.0h-2.1zm2.1 16.2h2.1v65.2h-2.1zm2.1 -9.2h2.1v74.4h-2.1zm2.1 0.0h2.1v82.7h-2.1zm2.1 0.0h2.1v82.7h-2.1zm2.1 1.6h2.1v80.8h-2.1zm2.1 4.7h2.1v73.0h-2.1zm2.1 26.0h2.1v47.0h-2.1zm2.1 0.0h2.1v40.0h-2.1zm2.1 8.3h2.1v42.2h-2.1zm2.1 15.8h2.1v50.7h-2.1zm2.1 0.0h2.1v50.7h-2.1zm2.1 0.0h2.1v59.8h-2.1zm2.1 32.4h2.1v47.6h-2.1zm2.1 -10.8h2.1v63.1h-2.1zm2.1 -3.0h2.1v66.1h-2.1zm2.1 0.0h2.1v97.9h-2.1zm2.1 45.4h2.1v60.1h-2.1zm2.1 3.0h2.1v57.1h-2.1zm2.1 -2.4h2.1v27.2h-2.1zm2.1 0.0h2.1v38.5h-2.1zm2.1 -18.5h2.1v57.0h-2.1zm2.1 0.0h2.1v75.6h-2.1zm2.1 0.0h2.1v83.1h-2.1zm2.1 55.6h2.1v32.5h-2.1zm2.1 1.5h2.1v64.7h-2.1zm2.1 0.0h2.1v64.7h-2.1zm2.1 0.0h2.1v53.5h-2.1zm2.1 15.7h2.1v57.1h-2.1zm2.1 6.8h2.1v50.3h-2.1zm2.1 4.7h2.1v79.4h-2.1zm2.1 3.3h2.1v76.1h-2.1zm2.1 20.9h2.1v55.2h-2.1zm2.1 10.1h2.1v30.6h-2.1zm2.1 4.0h2.1v26.6h-2.1zm2.1 0.0h2.1v52.1h-2.1zm2.1 0.0h2.1v52.1h-2.1zm2.1 4.4h2.1v47.6h-2.1zm2.1 0.0h2.1v63.0h-2.1zm2.1 20.8h2.1v42.3h-2.1zm2.1 4.6h2.1v37.7h-2.1zm2.1 2.8h2.1v25.0h-2.1zm2.1 0.0h2.1v42.4h-2.1zm2.1 0.0h2.1v43.9h-2.1zm2.1 16.6h2.1v27.2h-2.1zm2.1 6.0h2.1v41.2h-2.1zm2.1 3.2h2.1v42.2h-2.1zm2.1 19.5h2.1v22.8h-2.1zm2.1 0.0h2.1v20.5h-2.1zm2.1 -4.1h2.1v29.3h-2.1zm2.1 -11.6h2.1v75.5h-2.1zm2.1 0.0h2.1v75.5h-2.1zm2.1 19.3h2.1v36.7h-2.1zm2.1 0.0h2.1v61.5h-2.1zm2.1 14.9h2.1v46.6h-2.1zm2.1 2.6h2.1v50.1h-2.1zm2.1 4.3h2.1v45.8h-2.1zm2.1 3.1h2.1v42.6h-2.1zm2.1 5.6h2.1v34.3h-2.1zm2.1 0.6h2.1v44.1h-2.1zm2.1 0.7h2.1v58.2h-2.1zm2.1 0.0h2.1v58.2h-2.1zm2.1 0.0h2.1v60.3h-2.1zm2.1 22.6h2.1v37.8h-2.1zm2.1 -0.4h2.1v32.9h-2.1zm2.1 0.0h2.1v32.9h-2.1zm2.1 3.5h2.1v29.4h-2.1zm2.1 13.6h2.1v25.4h-2.1zm2.1 3.0h2.1v47.7h-2.1zm2.1 -3.7h2.1v51.3h-2.1zm2.1 -0.0h2.1v51.4h-2.1zm2.1 0.0h2.1v32.7h-2.1zm2.1 4.4h2.1v31.6h-2.1zm2.1 6.3h2.1v25.2h-2.1zm2.1 2.7h2.1v22.6h-2.1zm2.1 0.0h2.1v46.3h-2.1zm2.1 8.0h2.1v45.7h-2.1zm2.1 -0.7h2.1v46.4h-2.1zm2.1 0.0h2.1v29.4h-2.1zm2.1 -5.8h2.1v35.2h-2.1zm2.1 0.0h2.1v37.3h-2.1zm2.1 6.9h2.1v39.5h-2.1zm2.1 8.8h2.1v37.2h-2.1zm2.1 -16.6h2.1v53.8h-2.1zm2.1 0.0h2.1v64.7h-2.1zm2.1 10.0h2.1v54.7h-2.1zm2.1 7.4h2.1v47.3h-2.1zm2.1 -20.1h2.1v56.4h-2.1zm2.1 0.0h2.1v56.4h-2.1zm2.1 28.4h2.1v28.0h-2.1zm2.1 0.0h2.1v21.5h-2.1zm2.1 0.0h2.1v28.9h-2.1zm2.1 4.7h2.1v24.2h-2.1zm2.1 0.0h2.1v38.7h-2.1zm2.1 0.0h2.1v38.7h-2.1zm2.1 2.6h2.1v29.8h-2.1zm2.1 -11.4h2.1v45.2h-2.1zm2.1 0.0h2.1v49.6h-2.1zm2.1 3.3h2.1v62.6h-2.1zm2.1 0.0h2.1v62.6h-2.1zm2.1 23.5h2.1v17.1h-2.1zm2.1 -5.9h2.1v18.7h-2.1zm2.1 -44.2h2.1v62.9h-2.1zm2.1 -7.6h2.1v58.5h-2.1zm2.1 0.0h2.1v78.6h-2.1zm2.1 30.1h2.1v52.7h-2.1zm2.1 31.4h2.1v28.5h-2.1zm2.1 8.6h2.1v19.9h-2.1zm2.1 0.0h2.1v49.5h-2.1zm2.1 1.8h2.1v47.7h-2.1zm2.1 0.0h2.1v37.6h-2.1zm2.1 0.1h2.1v22.0h-2.1zm2.1 -4.9h2.1v30.8h-2.1zm2.1 -32.0h2.1v62.8h-2.1zm2.1 -20.8h2.1v77.5h-2.1zm2.1 0.0h2.1v59.3h-2.1zm2.1 5.1h2.1v99.4h-2.1zm2.1 48.3h2.1v51.1h-2.1zm2.1 -1.4h2.1v49.9h-2.1zm2.1 0.0h2.1v57.0h-2.1zm2.1 0.3h2.1v56.7h-2.1zm2.1 19.8h2.1v37.0h-2.1zm2.1 -24.0h2.1v52.3h-2.1zm2.1 0.0h2.1v52.3h-2.1zm2.1 -10.4h2.1v30.9h-2.1zm2.1 0.0h2.1v44.0h-2.1zm2.1 0.0h2.1v53.6h-2.1zm2.1 28.2h2.1v32.9h-2.1zm2.1 10.8h2.1v22.5h-2.1zm2.1 7.2h2.1v18.3h-2.1zm2.1 -0.6h2.1v18.8h-2.1zm2.1 -2.2h2.1v23.7h-2.1zm2.1 -4.1h2.1v27.7h-2.1zm2.1 -2.0h2.1v39.8h-2.1zm2.1 0.0h2.1v41.1h-2.1zm2.1 4.3h2.1v36.9h-2.1zm2.1 0.0h2.1v36.9h-2.1zm2.1 -3.5h2.1v40.4h-2.1zm2.1 -13.0h2.1v53.4h-2.1zm2.1 0.0h2.1v53.4h-2.1zm2.1 5.3h2.1v48.1h-2.1zm2.1 15.4h2.1v32.6h-2.1zm2.1 -15.3h2.1v41.6h-2.1zm2.1 -3.1h2.1v32.5h-2.1zm2.1 0.0h2.1v49.7h-2.1zm2.1 2.5h2.1v47.2h-2.1zm2.1 7.6h2.1v36.8h-2.1zm2.1 -1.3h2.1v33.1h-2.1zm2.1 -12.9h2.1v46.0h-2.1zm2.1 0.0h2.1v33.2h-2.1zm2.1 0.0h2.1v37.2h-2.1zm2.1 0.9h2.1v36.3h-2.1zm2.1 -10.1h2.1v46.4h-2.1zm2.1 0.0h2.1v42.4h-2.1zm2.1 15.9h2.1v31.4h-2.1zm2.1 0.0h2.1v31.4h-2.1zm2.1 0.1h2.1v31.3h-2.1zm2.1 0.6h2.1v36.7h-2.1zm2.1 0.0h2.1v36.7h-2.1zm2.1 4.2h2.1v32.4h-2.1zm2.1 -15.2h2.1v33.8h-2.1zm2.1 -4.1h2.1v37.2h-2.1zm2.1 0.0h2.1v40.8h-2.1zm2.1 6.4h2.1v34.4h-2.1zm2.1 0.8h2.1v47.7h-2.1zm2.1 15.3h2.1v40.1h-2.1zm2.1 -3.5h2.1v43.6h-2.1zm2.1 0.0h2.1v43.6h-2.1zm2.1 1.5h2.1v29.7h-2.1zm2.1 0.0h2.1v42.1h-2.1zm2.1 0.0h2.1v42.1h-2.1zm2.1 13.3h2.1v28.8h-2.1zm2.1 0.0h2.1v28.8h-2.1zm2.1 -3.0h2.1v31.8h-2.1zm2.1 -18.3h2.1v50.2h-2.1zm2.1 0.0h2.1v50.2h-2.1zm2.1 21.0h2.1v27.6h-2.1zm2.1 0.1h2.1v29.1h-2.1zm2.1 -3.3h2.1v32.4h-2.1zm2.1 0.0h2.1v32.4h-2.1zm2.1 -9.4h2.1v41.8h-2.1zm2.1 0.0h2.1v41.8h-2.1zm2.1 18.6h2.1v23.2h-2.1zm2.1 3.5h2.1v19.7h-2.1zm2.1 -0.6h2.1v20.2h-2.1zm2.1 -0.3h2.1v20.3h-2.1zm2.1 -17.1h2.1v37.4h-2.1zm2.1 -0.4h2.1v33.3h-2.1zm2.1 0.0h2.1v38.0h-2.1zm2.1 -13.3h2.1v51.3h-2.1zm2.1 -9.8h2.1v61.1h-2.1zm2.1 -1.9h2.1v25.6h-2.1zm2.1 0.0h2.1v54.3h-2.1zm2.1 10.5h2.1v43.9h-2.1zm2.1 21.5h2.1v31.1h-2.1zm2.1 0.0h2.1v31.1h-2.1zm2.1 -6.0h2.1v37.1h-2.1zm2.1 -9.5h2.1v46.6h-2.1zm2.1 0.0h2.1v46.6h-2.1zm2.1 8.6h2.1v38.0h-2.1zm2.1 -1.7h2.1v33.6h-2.1zm2.1 0.0h2.1v39.7h-2.1zm2.1 -9.3h2.1v49.0h-2.1zm2.1 0.0h2.1v49.0h-2.1zm2.1 3.0h2.1v42.3h-2.1zm2.1 14.0h2.1v25.8h-2.1zm2.1 -6.3h2.1v32.1h-2.1zm2.1 0.0h2.1v29.2h-2.1zm2.1 0.0h2.1v35.1h-2.1zm2.1 4.6h2.1v30.5h-2.1zm2.1 2.3h2.1v21.3h-2.1zm2.1 -6.6h2.1v27.9h-2.1zm2.1 0.0h2.1v31.5h-2.1zm2.1 -8.3h2.1v39.8h-2.1zm2.1 -5.8h2.1v47.8h-2.1zm2.1 0.0h2.1v52.0h-2.1zm2.1 22.3h2.1v29.7h-2.1zm2.1 -11.2h2.1v40.9h-2.1zm2.1 -3.0h2.1v43.9h-2.1zm2.1 0.0h2.1v43.9h-2.1zm2.1 -6.3h2.1v48.3h-2.1zm2.1 0.0h2.1v48.3h-2.1zm2.1 12.1h2.1v38.1h-2.1zm2.1 2.1h2.1v36.0h-2.1zm2.1 0.0h2.1v31.0h-2.1zm2.1 3.6h2.1v32.5h-2.1zm2.1 2.6h2.1v29.9h-2.1zm2.1 5.0h2.1v24.9h-2.1zm2.1 1.6h2.1v23.3h-2.1zm2.1 -20.3h2.1v43.6h-2.1zm2.1 0.0h2.1v43.3h-2.1zm2.1 -3.0h2.1v46.3h-2.1zm2.1 0.0h2.1v46.3h-2.1zm2.1 1.5h2.1v45.0h-2.1zm2.1 5.5h2.1v39.5h-2.1zm2.1 0.0h2.1v39.5h-2.1zm2.1 0.0h2.1v35.7h-2.1z" fill="#cfcccd"/>
<path d="M329.3 1108.4h2.1v42.9h-2.1zm2.1 0.0h2.1v45.4h-2.1zm2.1 0.0h2.1v45.4h-2.1zm2.1 10.3h2.1v26.9h-2.1zm2.1 -1.6h2.1v17.6h-2.1zm2.1 0.0h2.1v20.3h-2.1zm2.1 3.0h2.1v18.0h-2.1zm2.1 -3.7h2.1v21.8h-2.1zm2.1 0.0h2.1v16.1h-2.1zm2.1 0.0h2.1v20.3h-2.1zm2.1 -17.1h2.1v37.3h-2.1zm2.1 -1.8h2.1v47.5h-2.1zm2.1 0.0h2.1v53.6h-2.1zm2.1 12.4h2.1v41.1h-2.1zm2.1 -9.4h2.1v30.4h-2.1zm2.1 0.0h2.1v36.1h-2.1zm2.1 19.5h2.1v16.6h-2.1zm2.1 0.0h2.1v16.9h-2.1zm2.1 1.0h2.1v15.9h-2.1zm2.1 -6.7h2.1v22.6h-2.1zm2.1 0.0h2.1v26.8h-2.1zm2.1 -3.6h2.1v30.5h-2.1zm2.1 0.0h2.1v23.8h-2.1zm2.1 0.0h2.1v25.0h-2.1zm2.1 11.7h2.1v18.0h-2.1zm2.1 -14.0h2.1v32.0h-2.1zm2.1 0.0h2.1v36.1h-2.1zm2.1 -5.6h2.1v41.8h-2.1zm2.1 -2.4h2.1v43.7h-2.1zm2.1 0.0h2.1v40.4h-2.1zm2.1 0.0h2.1v40.7h-2.1zm2.1 6.0h2.1v36.6h-2.1zm2.1 13.2h2.1v28.5h-2.1zm2.1 3.8h2.1v24.7h-2.1zm2.1 -7.1h2.1v25.1h-2.1zm2.1 -1.7h2.1v20.4h-2.1zm2.1 -0.2h2.1v24.3h-2.1zm2.1 0.0h2.1v24.3h-2.1zm2.1 -7.3h2.1v27.1h-2.1zm2.1 0.0h2.1v38.2h-2.1zm2.1 8.1h2.1v30.1h-2.1zm2.1 7.8h2.1v22.3h-2.1zm2.1 0.0h2.1v18.8h-2.1zm2.1 -6.5h2.1v25.3h-2.1zm2.1 0.0h2.1v14.9h-2.1zm2.1 0.0h2.1v14.4h-2.1zm2.1 -4.1h2.1v19.8h-2.1zm2.1 0.0h2.1v19.8h-2.1zm2.1 -4.4h2.1v37.8h-2.1zm2.1 0.0h2.1v37.8h-2.1zm2.1 0.0h2.1v32.9h-2.1zm2.1 9.4h2.1v23.5h-2.1zm2.1 -8.6h2.1v28.9h-2.1zm2.1 0.0h2.1v27.8h-2.1zm2.1 3.1h2.1v20.0h-2.1zm2.1 0.0h2.1v20.0h-2.1zm2.1 -5.5h2.1v25.5h-2.1zm2.1 0.0h2.1v36.3h-2.1zm2.1 0.0h2.1v47.0h-2.1zm2.1 -4.5h2.1v51.5h-2.1zm2.1 0.0h2.1v38.0h-2.1zm2.1 0.0h2.1v34.3h-2.1zm2.1 9.8h2.1v31.8h-2.1zm2.1 -0.2h2.1v33.6h-2.1zm2.1 0.0h2.1v47.1h-2.1zm2.1 8.1h2.1v39.0h-2.1zm2.1 -9.3h2.1v48.3h-2.1zm2.1 0.0h2.1v23.5h-2.1zm2.1 0.0h2.1v25.8h-2.1zm2.1 -4.4h2.1v32.4h-2.1zm2.1 0.0h2.1v39.7h-2.1zm2.1 10.6h2.1v29.2h-2.1zm2.1 -6.7h2.1v38.1h-2.1zm2.1 0.0h2.1v42.3h-2.1zm2.1 0.0h2.1v42.3h-2.1zm2.1 9.9h2.1v23.7h-2.1zm2.1 -3.8h2.1v27.5h-2.1zm2.1 -1.2h2.1v24.2h-2.1zm2.1 -8.8h2.1v25.4h-2.1zm2.1 0.0h2.1v28.2h-2.1zm2.1 6.0h2.1v24.4h-2.1zm2.1 -0.8h2.1v25.2h-2.1zm2.1 0.0h2.1v27.8h-2.1zm2.1 0.0h2.1v28.8h-2.1zm2.1 1.0h2.1v27.8h-2.1zm2.1 0.6h2.1v16.6h-2.1zm2.1 4.4h2.1v26.9h-2.1zm2.1 4.6h2.1v33.9h-2.1zm2.1 -24.2h2.1v58.0h-2.1zm2.1 -3.4h2.1v53.5h-2.1zm2.1 0.0h2.1v29.4h-2.1zm2.1 10.3h2.1v27.6h-2.1zm2.1 0.0h2.1v30.3h-2.1zm2.1 13.8h2.1v16.5h-2.1zm2.1 -2.6h2.1v16.9h-2.1zm2.1 -2.8h2.1v19.7h-2.1zm2.1 -7.5h2.1v32.1h-2.1zm2.1 0.0h2.1v32.1h-2.1zm2.1 -22.9h2.1v55.0h-2.1zm2.1 0.0h2.1v50.6h-2.1zm2.1 3.0h2.1v47.5h-2.1zm2.1 7.4h2.1v40.1h-2.1zm2.1 0.0h2.1v28.3h-2.1zm2.1 9.2h2.1v20.9h-2.1zm2.1 5.4h2.1v21.4h-2.1zm2.1 -0.2h2.1v21.5h-2.1zm2.1 0.0h2.1v22.9h-2.1zm2.1 -26.8h2.1v49.7h-2.1zm2.1 0.0h2.1v49.7h-2.1zm2.1 0.0h2.1v31.1h-2.1zm2.1 10.7h2.1v22.7h-2.1zm2.1 4.3h2.1v18.4h-2.1zm2.1 0.0h2.1v17.4h-2.1zm2.1 6.2h2.1v14.5h-2.1zm2.1 -1.2h2.1v15.6h-2.1zm2.1 0.0h2.1v22.3h-2.1zm2.1 0.0h2.1v22.6h-2.1zm2.1 -3.8h2.1v26.4h-2.1zm2.1 0.0h2.1v28.1h-2.1zm2.1 0.0h2.1v28.1h-2.1zm2.1 1.5h2.1v26.6h-2.1zm2.1 -1.7h2.1v16.7h-2.1zm2.1 0.0h2.1v16.7h-2.1zm2.1 -6.9h2.1v23.1h-2.1zm2.1 -7.0h2.1v30.1h-2.1zm2.1 0.0h2.1v38.2h-2.1zm2.1 14.9h2.1v28.5h-2.1zm2.1 -8.2h2.1v36.7h-2.1zm2.1 -15.4h2.1v37.7h-2.1zm2.1 0.0h2.1v44.8h-2.1zm2.1 0.0h2.1v53.6h-2.1zm2.1 25.3h2.1v28.3h-2.1zm2.1 -9.1h2.1v36.3h-2.1zm2.1 -0.2h2.1v36.5h-2.1zm2.1 0.0h2.1v27.6h-2.1zm2.1 -5.3h2.1v44.9h-2.1zm2.1 -3.9h2.1v48.9h-2.1zm2.1 0.0h2.1v39.2h-2.1zm2.1 -4.8h2.1v43.8h-2.1zm2.1 0.0h2.1v43.8h-2.1zm2.1 0.0h2.1v30.2h-2.1zm2.1 5.6h2.1v24.6h-2.1zm2.1 1.2h2.1v23.9h-2.1zm2.1 6.1h2.1v18.3h-2.1zm2.1 -10.8h2.1v29.1h-2.1zm2.1 0.0h2.1v27.4h-2.1zm2.1 0.0h2.1v32.5h-2.1zm2.1 9.1h2.1v27.0h-2.1zm2.1 2.8h2.1v24.2h-2.1zm2.1 -13.4h2.1v37.5h-2.1zm2.1 0.0h2.1v24.6h-2.1zm2.1 1.6h2.1v42.1h-2.1zm2.1 12.6h2.1v37.1h-2.1zm2.1 -1.0h2.1v38.0h-2.1zm2.1 0.0h2.1v21.6h-2.1zm2.1 -13.0h2.1v54.7h-2.1zm2.1 0.0h2.1v54.7h-2.1zm2.1 21.4h2.1v33.3h-2.1zm2.1 -7.8h2.1v31.5h-2.1zm2.1 0.0h2.1v31.5h-2.1zm2.1 7.5h2.1v37.6h-2.1zm2.1 -3.5h2.1v41.1h-2.1zm2.1 -5.6h2.1v46.7h-2.1zm2.1 0.0h2.1v21.2h-2.1zm2.1 2.9h2.1v18.3h-2.1zm2.1 1.8h2.1v16.0h-2.1zm2.1 -3.9h2.1v19.8h-2.1zm2.1 -9.9h2.1v33.9h-2.1zm2.1 0.0h2.1v33.9h-2.1zm2.1 0.0h2.1v39.6h-2.1zm2.1 4.5h2.1v35.1h-2.1zm2.1 0.0h2.1v28.6h-2.1zm2.1 8.1h2.1v21.7h-2.1zm2.1 0.0h2.1v25.2h-2.1zm2.1 -0.0h2.1v25.4h-2.1zm2.1 -3.4h2.1v28.8h-2.1zm2.1 0.0h2.1v26.2h-2.1zm2.1 -10.7h2.1v35.9h-2.1zm2.1 0.0h2.1v38.4h-2.1zm2.1 11.9h2.1v26.5h-2.1zm2.1 -8.6h2.1v40.1h-2.1zm2.1 0.0h2.1v40.1h-2.1zm2.1 1.0h2.1v41.4h-2.1zm2.1 17.3h2.1v24.2h-2.1zm2.1 4.3h2.1v19.9h-2.1zm2.1 -9.5h2.1v30.6h-2.1zm2.1 -14.8h2.1v45.5h-2.1zm2.1 0.0h2.1v35.8h-2.1zm2.1 4.8h2.1v31.5h-2.1zm2.1 7.8h2.1v23.7h-2.1zm2.1 1.8h2.1v21.9h-2.1zm2.1 0.0h2.1v23.9h-2.1zm2.1 3.8h2.1v20.1h-2.1zm2.1 0.0h2.1v20.1h-2.1zm2.1 0.0h2.1v11.8h-2.1zm2.1 -17.1h2.1v33.6h-2.1zm2.1 0.0h2.1v33.6h-2.1zm2.1 4.6h2.1v38.8h-2.1zm2.1 0.0h2.1v51.1h-2.1zm2.1 8.0h2.1v43.2h-2.1zm2.1 0.0h2.1v43.2h-2.1zm2.1 0.0h2.1v28.0h-2.1zm2.1 10.4h2.1v19.0h-2.1zm2.1 -0.5h2.1v28.7h-2.1zm2.1 -1.6h2.1v30.4h-2.1zm2.1 0.0h2.1v23.9h-2.1zm2.1 -2.4h2.1v25.4h-2.1zm2.1 0.0h2.1v28.5h-2.1zm2.1 0.0h2.1v28.5h-2.1zm2.1 -5.9h2.1v27.9h-2.1zm2.1 -10.4h2.1v38.3h-2.1zm2.1 0.0h2.1v39.6h-2.1zm2.1 14.4h2.1v37.3h-2.1zm2.1 -1.1h2.1v38.4h-2.1zm2.1 0.0h2.1v27.0h-2.1zm2.1 3.5h2.1v21.5h-2.1zm2.1 0.0h2.1v26.0h-2.1zm2.1 0.0h2.1v26.0h-2.1zm2.1 3.6h2.1v23.5h-2.1zm2.1 -8.6h2.1v32.1h-2.1zm2.1 0.0h2.1v36.4h-2.1zm2.1 2.9h2.1v40.5h-2.1zm2.1 0.0h2.1v42.7h-2.1zm2.1 9.9h2.1v32.8h-2.1zm2.1 0.0h2.1v38.1h-2.1zm2.1 0.6h2.1v37.5h-2.1zm2.1 -15.5h2.1v52.9h-2.1zm2.1 0.0h2.1v37.7h-2.1zm2.1 13.4h2.1v24.0h-2.1zm2.1 -0.1h2.1v26.4h-2.1zm2.1 -8.9h2.1v35.3h-2.1zm2.1 -2.3h2.1v39.5h-2.1zm2.1 0.0h2.1v39.5h-2.1zm2.1 4.6h2.1v34.9h-2.1zm2.1 -6.0h2.1v38.2h-2.1zm2.1 -3.3h2.1v50.5h-2.1zm2.1 0.0h2.1v50.5h-2.1zm2.1 12.5h2.1v27.4h-2.1zm2.1 -2.4h2.1v29.8h-2.1zm2.1 0.0h2.1v30.9h-2.1zm2.1 8.9h2.1v22.0h-2.1zm2.1 0.0h2.1v32.0h-2.1zm2.1 2.2h2.1v29.9h-2.1zm2.1 -11.8h2.1v40.2h-2.1zm2.1 0.0h2.1v40.2h-2.1zm2.1 -5.4h2.1v19.9h-2.1zm2.1 0.0h2.1v37.2h-2.1zm2.1 0.0h2.1v41.1h-2.1zm2.1 13.3h2.1v27.8h-2.1zm2.1 -0.7h2.1v11.1h-2.1zm2.1 0.0h2.1v20.5h-2.1zm2.1 0.0h2.1v33.3h-2.1zm2.1 1.4h2.1v31.8h-2.1zm2.1 -4.7h2.1v36.5h-2.1zm2.1 0.0h2.1v21.1h-2.1zm2.1 -5.0h2.1v26.0h-2.1zm2.1 -2.5h2.1v27.3h-2.1zm2.1 -2.7h2.1v21.0h-2.1zm2.1 -0.1h2.1v29.1h-2.1zm2.1 0.0h2.1v41.5h-2.1zm2.1 7.2h2.1v34.3h-2.1zm2.1 0.0h2.1v34.3h-2.1zm2.1 0.0h2.1v24.0h-2.1zm2.1 6.4h2.1v17.6h-2.1zm2.1 0.0h2.1v20.3h-2.1zm2.1 -11.0h2.1v37.2h-2.1zm2.1 0.0h2.1v37.2h-2.1zm2.1 -1.8h2.1v43.0h-2.1zm2.1 0.0h2.1v51.2h-2.1zm2.1 11.2h2.1v40.0h-2.1zm2.1 0.0h2.1v32.2h-2.1zm2.1 -4.0h2.1v36.1h-2.1zm2.1 0.0h2.1v30.0h-2.1zm2.1 3.3h2.1v18.7h-2.1zm2.1 -1.2h2.1v19.9h-2.1zm2.1 -9.5h2.1v24.8h-2.1zm2.1 -8.8h2.1v31.3h-2.1zm2.1 0.0h2.1v36.9h-2.1zm2.1 0.0h2.1v36.9h-2.1zm2.1 2.7h2.1v34.2h-2.1zm2.1 0.0h2.1v27.7h-2.1zm2.1 14.4h2.1v19.1h-2.1zm2.1 -8.6h2.1v27.7h-2.1zm2.1 0.0h2.1v35.4h-2.1zm2.1 1.2h2.1v34.2h-2.1zm2.1 -8.0h2.1v42.2h-2.1zm2.1 0.0h2.1v34.2h-2.1zm2.1 -1.3h2.1v35.0h-2.1zm2.1 0.0h2.1v33.4h-2.1zm2.1 0.0h2.1v30.9h-2.1zm2.1 7.9h2.1v23.0h-2.1zm2.1 0.0h2.1v26.7h-2.1zm2.1 -11.7h2.1v38.8h-2.1zm2.1 0.0h2.1v38.8h-2.1zm2.1 0.0h2.1v38.0h-2.1zm2.1 12.2h2.1v37.2h-2.1zm2.1 -1.6h2.1v43.0h-2.1zm2.1 0.0h2.1v43.0h-2.1zm2.1 -0.2h2.1v25.5h-2.1zm2.1 -3.4h2.1v40.2h-2.1zm2.1 -5.9h2.1v46.1h-2.1zm2.1 0.0h2.1v46.1h-2.1zm2.1 -16.2h2.1v39.7h-2.1zm2.1 0.0h2.1v36.4h-2.1zm2.1 0.0h2.1v42.5h-2.1zm2.1 11.0h2.1v50.6h-2.1zm2.1 6.4h2.1v44.3h-2.1zm2.1 0.0h2.1v39.4h-2.1zm2.1 2.1h2.1v13.9h-2.1zm2.1 3.5h2.1v19.9h-2.1zm2.1 0.0h2.1v19.9h-2.1zm2.1 -18.2h2.1v32.0h-2.1zm2.1 0.0h2.1v30.7h-2.1zm2.1 1.7h2.1v29.0h-2.1zm2.1 6.8h2.1v22.0h-2.1zm2.1 0.0h2.1v22.9h-2.1zm2.1 -5.9h2.1v28.8h-2.1zm2.1 -0.2h2.1v24.2h-2.1zm2.1 0.0h2.1v19.4h-2.1zm2.1 -20.2h2.1v39.6h-2.1zm2.1 0.0h2.1v38.3h-2.1zm2.1 0.0h2.1v38.3h-2.1zm2.1 1.7h2.1v35.1h-2.1zm2.1 -7.0h2.1v42.1h-2.1zm2.1 0.0h2.1v39.8h-2.1zm2.1 12.6h2.1v27.2h-2.1zm2.1 -7.7h2.1v27.4h-2.1zm2.1 -8.6h2.1v36.0h-2.1zm2.1 0.0h2.1v32.5h-2.1zm2.1 4.4h2.1v30.3h-2.1zm2.1 0.0h2.1v36.8h-2.1zm2.1 -9.2h2.1v46.0h-2.1zm2.1 0.0h2.1v46.0h-2.1zm2.1 -25.5h2.1v62.4h-2.1zm2.1 0.0h2.1v55.5h-2.1zm2.1 7.9h2.1v42.5h-2.1zm2.1 10.9h2.1v31.6h-2.1zm2.1 -19.3h2.1v49.6h-2.1zm2.1 0.0h2.1v32.7h-2.1zm2.1 0.0h2.1v23.2h-2.1zm2.1 -6.1h2.1v29.4h-2.1zm2.1 0.0h2.1v21.2h-2.1zm2.1 -15.1h2.1v29.7h-2.1zm2.1 -0.3h2.1v30.0h-2.1zm2.1 0.0h2.1v29.1h-2.1zm2.1 -8.5h2.1v37.6h-2.1zm2.1 0.0h2.1v18.7h-2.1zm2.1 -10.2h2.1v29.0h-2.1zm2.1 -8.3h2.1v25.7h-2.1zm2.1 -30.5h2.1v43.7h-2.1zm2.1 0.0h2.1v43.2h-2.1zm2.1 0.0h2.1v34.0h-2.1zm2.1 -6.7h2.1v24.2h-2.1zm2.1 -3.5h2.1v24.9h-2.1zm2.1 -16.7h2.1v38.7h-2.1zm2.1 -0.8h2.1v27.9h-2.1zm2.1 -12.1h2.1v38.9h-2.1zm2.1 -19.4h2.1v45.0h-2.1zm2.1 0.0h2.1v44.4h-2.1zm2.1 -11.7h2.1v56.1h-2.1zm2.1 -7.9h2.1v31.6h-2.1zm2.1 -5.1h2.1v25.9h-2.1zm2.1 -5.3h2.1v29.4h-2.1zm2.1 -9.1h2.1v37.1h-2.1zm2.1 -17.1h2.1v54.2h-2.1zm2.1 -9.9h2.1v46.5h-2.1zm2.1 -5.4h2.1v32.8h-2.1zm2.1 -8.1h2.1v36.4h-2.1zm2.1 -1.2h2.1v23.9h-2.1zm2.1 -33.6h2.1v46.4h-2.1zm2.1 -29.7h2.1v71.5h-2.1zm2.1 -0.0h2.1v53.4h-2.1zm2.1 0.0h2.1v27.5h-2.1zm2.1 -2.9h2.1v30.4h-2.1zm2.1 -18.2h2.1v44.3h-2.1zm2.1 -11.3h2.1v53.4h-2.1zm2.1 -14.3h2.1v67.7h-2.1zm2.1 -18.1h2.1v42.1h-2.1zm2.1 -16.2h2.1v45.4h-2.1zm2.1 -9.5h2.1v35.0h-2.1zm2.1 -3.8h2.1v34.5h-2.1zm2.1 -5.6h2.1v40.2h-2.1zm2.1 -12.8h2.1v33.2h-2.1zm2.1 -12.1h2.1v41.8h-2.1zm2.1 -13.1h2.1v33.0h-2.1zm2.1 -15.8h2.1v37.3h-2.1zm2.1 -21.2h2.1v46.1h-2.1zm2.1 0.0h2.1v27.7h-2.1zm2.1 -12.2h2.1v32.3h-2.1zm2.1 0.0h2.1v30.2h-2.1zm2.1 -29.8h2.1v42.4h-2.1zm2.1 -19.3h2.1v61.2h-2.1zm2.1 -6.8h2.1v35.9h-2.1zm2.1 -5.8h2.1v24.7h-2.1zm2.1 -2.7h2.1v20.1h-2.1zm2.1 -31.2h2.1v42.3h-2.1zm2.1 -2.2h2.1v44.4h-2.1zm2.1 -41.7h2.1v75.2h-2.1zm2.1 0.0h2.1v75.2h-2.1zm2.1 4.3h2.1v70.9h-2.1zm2.1 -32.1h2.1v80.2h-2.1zm2.1 -4.1h2.1v50.3h-2.1zm2.1 0.0h2.1v32.8h-2.1zm2.1 -15.5h2.1v48.3h-2.1zm2.1 -0.6h2.1v48.9h-2.1zm2.1 -4.7h2.1v51.2h-2.1zm2.1 -20.6h2.1v71.8h-2.1zm2.1 -34.3h2.1v77.4h-2.1zm2.1 0.0h2.1v56.0h-2.1zm2.1 3.2h2.1v52.8h-2.1zm2.1 25.8h2.1v52.4h-2.1zm2.1 -12.0h2.1v64.4h-2.1zm2.1 -1.5h2.1v65.0h-2.1zm2.1 -8.6h2.1v73.7h-2.1zm2.1 -15.0h2.1v88.7h-2.1zm2.1 0.0h2.1v79.3h-2.1zm2.1 -10.2h2.1v24.8h-2.1zm2.1 0.0h2.1v34.5h-2.1zm2.1 0.0h2.1v71.9h-2.1zm2.1 3.6h2.1v68.2h-2.1zm2.1 0.0h2.1v39.1h-2.1zm2.1 5.9h2.1v33.8h-2.1zm2.1 9.7h2.1v27.2h-2.1zm2.1 -28.4h2.1v55.6h-2.1zm2.1 -7.5h2.1v60.9h-2.1zm2.1 0.0h2.1v57.3h-2.1zm2.1 -22.1h2.1v79.5h-2.1zm2.1 0.0h2.1v74.9h-2.1zm2.1 0.3h2.1v77.6h-2.1zm2.1 34.6h2.1v58.5h-2.1zm2.1 0.0h2.1v58.5h-2.1zm2.1 29.1h2.1v39.7h-2.1zm2.1 0.0h2.1v39.7h-2.1zm2.1 1.5h2.1v38.3h-2.1zm2.1 0.0h2.1v45.8h-2.1zm2.1 0.1h2.1v45.7h-2.1zm2.1 11.6h2.1v41.5h-2.1zm2.1 3.7h2.1v41.8h-2.1zm2.1 18.7h2.1v33.9h-2.1zm2.1 0.0h2.1v33.9h-2.1zm2.1 -21.0h2.1v68.6h-2.1zm2.1 0.0h2.1v68.6h-2.1zm2.1 19.7h2.1v50.5h-2.1zm2.1 20.2h2.1v55.8h-2.1zm2.1 5.0h2.1v52.1h-2.1zm2.1 33.3h2.1v32.4h-2.1zm2.1 3.7h2.1v28.7h-2.1zm2.1 0.0h2.1v55.9h-2.1zm2.1 0.0h2.1v78.1h-2.1zm2.1 49.9h2.1v32.9h-2.1zm2.1 10.0h2.1v57.8h-2.1zm2.1 13.0h2.1v44.8h-2.1zm2.1 0.0h2.1v44.8h-2.1zm2.1 3.1h2.1v34.8h-2.1zm2.1 3.2h2.1v56.3h-2.1zm2.1 26.5h2.1v29.8h-2.1zm2.1 0.0h2.1v37.1h-2.1zm2.1 0.9h2.1v53.6h-2.1zm2.1 8.8h2.1v46.5h-2.1zm2.1 19.8h2.1v40.5h-2.1zm2.1 20.6h2.1v32.1h-2.1zm2.1 0.0h2.1v44.9h-2.1zm2.1 0.0h2.1v51.5h-2.1zm2.1 28.8h2.1v50.1h-2.1zm2.1 9.9h2.1v40.2h-2.1zm2.1 1.9h2.1v44.0h-2.1zm2.1 0.0h2.1v60.2h-2.1zm2.1 36.5h2.1v35.4h-2.1zm2.1 16.8h2.1v31.7h-2.1zm2.1 3.1h2.1v31.8h-2.1zm2.1 -0.9h2.1v36.2h-2.1zm2.1 0.0h2.1v47.8h-2.1zm2.1 21.4h2.1v56.1h-2.1zm2.1 19.8h2.1v39.4h-2.1zm2.1 15.7h2.1v24.4h-2.1zm2.1 6.0h2.1v18.4h-2.1zm2.1 2.5h2.1v35.5h-2.1zm2.1 0.0h2.1v63.5h-2.1zm2.1 23.3h2.1v40.2h-2.1zm2.1 19.0h2.1v35.8h-2.1zm2.1 2.7h2.1v33.2h-2.1zm2.1 12.5h2.1v28.3h-2.1zm2.1 8.8h2.1v26.7h-2.1zm2.1 1.0h2.1v32.2h-2.1zm2.1 0.0h2.1v32.2h-2.1zm2.1 15.4h2.1v26.0h-2.1zm2.1 0.0h2.1v37.8h-2.1zm2.1 17.3h2.1v21.3h-2.1zm2.1 6.7h2.1v28.3h-2.1zm2.1 8.8h2.1v29.1h-2.1zm2.1 8.6h2.1v36.0h-2.1zm2.1 0.0h2.1v39.9h-2.1zm2.1 13.7h2.1v29.2h-2.1zm2.1 9.7h2.1v27.6h-2.1zm2.1 0.0h2.1v35.0h-2.1zm2.1 18.8h2.1v32.1h-2.1zm2.1 2.3h2.1v29.8h-2.1zm2.1 -11.3h2.1v41.1h-2.1zm2.1 0.0h2.1v41.6h-2.1zm2.1 0.0h2.1v46.6h-2.1zm2.1 17.9h2.1v38.3h-2.1zm2.1 12.8h2.1v28.3h-2.1zm2.1 1.6h2.1v39.1h-2.1zm2.1 0.0h2.1v48.1h-2.1zm2.1 15.0h2.1v34.6h-2.1zm2.1 1.8h2.1v38.4h-2.1zm2.1 0.0h2.1v54.7h-2.1zm2.1 26.3h2.1v28.5h-2.1zm2.1 0.0h2.1v26.2h-2.1zm2.1 0.6h2.1v37.3h-2.1zm2.1 6.1h2.1v31.2h-2.1zm2.1 0.0h2.1v36.5h-2.1zm2.1 11.9h2.1v50.4h-2.1zm2.1 8.5h2.1v42.0h-2.1zm2.1 -6.5h2.1v48.5h-2.1zm2.1 0.0h2.1v46.2h-2.1zm2.1 0.0h2.1v46.2h-2.1zm2.1 21.8h2.1v41.5h-2.1zm2.1 0.0h2.1v42.7h-2.1zm2.1 11.9h2.1v30.9h-2.1zm2.1 6.7h2.1v39.2h-2.1zm2.1 0.0h2.1v39.2h-2.1zm2.1 14.9h2.1v25.0h-2.1zm2.1 -6.6h2.1v31.6h-2.1zm2.1 0.0h2.1v31.6h-2.1zm2.1 5.0h2.1v21.8h-2.1zm2.1 1.4h2.1v24.0h-2.1zm2.1 0.0h2.1v48.7h-2.1zm2.1 6.1h2.1v42.7h-2.1zm2.1 -0.9h2.1v26.8h-2.1zm2.1 0.0h2.1v39.6h-2.1zm2.1 0.0h2.1v39.6h-2.1zm2.1 9.9h2.1v36.5h-2.1zm2.1 7.9h2.1v28.6h-2.1zm2.1 -2.9h2.1v31.4h-2.1zm2.1 0.0h2.1v23.9h-2.1zm2.1 0.0h2.1v21.1h-2.1zm2.1 -9.7h2.1v30.8h-2.1zm2.1 -16.6h2.1v44.0h-2.1zm2.1 0.0h2.1v37.6h-2.1zm2.1 29.5h2.1v15.7h-2.1zm2.1 -1.1h2.1v24.3h-2.1zm2.1 0.0h2.1v25.8h-2.1zm2.1 0.5h2.1v49.2h-2.1zm2.1 4.9h2.1v45.8h-2.1zm2.1 16.2h2.1v29.7h-2.1zm2.1 0.2h2.1v12.6h-2.1zm2.1 -2.5h2.1v41.1h-2.1zm2.1 -2.2h2.1v43.3h-2.1zm2.1 -1.7h2.1v36.7h-2.1zm2.1 -17.5h2.1v54.2h-2.1zm2.1 -1.7h2.1v40.3h-2.1zm2.1 0.0h2.1v43.9h-2.1zm2.1 28.7h2.1v34.0h-2.1zm2.1 7.7h2.1v38.0h-2.1zm2.1 3.5h2.1v34.5h-2.1zm2.1 0.0h2.1v37.0h-2.1zm2.1 2.9h2.1v34.0h-2.1zm2.1 0.0h2.1v23.2h-2.1zm2.1 -11.8h2.1v47.2h-2.1zm2.1 0.0h2.1v47.2h-2.1zm2.1 -17.6h2.1v36.5h-2.1zm2.1 0.0h2.1v27.9h-2.1zm2.1 2.9h2.1v36.4h-2.1zm2.1 8.9h2.1v31.0h-2.1zm2.1 15.3h2.1v38.5h-2.1zm2.1 -0.6h2.1v39.1h-2.1zm2.1 0.0h2.1v42.5h-2.1zm2.1 13.5h2.1v29.0h-2.1zm2.1 -8.5h2.1v24.7h-2.1zm2.1 -3.0h2.1v27.7h-2.1zm2.1 -9.1h2.1v36.4h-2.1zm2.1 0.0h2.1v31.2h-2.1zm2.1 0.0h2.1v48.3h-2.1zm2.1 23.2h2.1v25.9h-2.1zm2.1 -2.0h2.1v34.4h-2.1zm2.1 0.0h2.1v34.5h-2.1zm2.1 -6.2h2.1v40.7h-2.1zm2.1 0.0h2.1v37.7h-2.1zm2.1 18.0h2.1v19.7h-2.1zm2.1 -5.4h2.1v21.1h-2.1zm2.1 0.0h2.1v21.6h-2.1zm2.1 -2.7h2.1v24.3h-2.1zm2.1 -14.1h2.1v38.4h-2.1zm2.1 0.0h2.1v41.3h-2.1zm2.1 18.3h2.1v36.0h-2.1zm2.1 14.6h2.1v25.9h-2.1zm2.1 -2.5h2.1v28.4h-2.1zm2.1 0.0h2.1v19.7h-2.1zm2.1 -7.3h2.1v15.9h-2.1zm2.1 -10.1h2.1v30.4h-2.1zm2.1 -11.7h2.1v42.1h-2.1zm2.1 0.0h2.1v33.9h-2.1zm2.1 11.4h2.1v22.5h-2.1zm2.1 0.0h2.1v19.3h-2.1zm2.1 0.0h2.1v22.2h-2.1zm2.1 9.8h2.1v12.5h-2.1zm2.1 1.3h2.1v14.0h-2.1zm2.1 -9.8h2.1v30.2h-2.1zm2.1 -8.2h2.1v38.4h-2.1zm2.1 -6.7h2.1v36.3h-2.1zm2.1 -0.9h2.1v23.0h-2.1zm2.1 0.0h2.1v46.3h-2.1zm2.1 7.3h2.1v51.4h-2.1zm2.1 21.4h2.1v30.0h-2.1zm2.1 -1.8h2.1v27.5h-2.1zm2.1 -2.7h2.1v16.0h-2.1zm2.1 -11.8h2.1v25.3h-2.1zm2.1 -20.0h2.1v40.5h-2.1zm2.1 0.0h2.1v34.5h-2.1zm2.1 0.0h2.1v49.4h-2.1zm2.1 14.5h2.1v38.8h-2.1zm2.1 8.0h2.1v30.8h-2.1zm2.1 0.0h2.1v29.7h-2.1zm2.1 9.4h2.1v20.3h-2.1zm2.1 0.0h2.1v20.8h-2.1zm2.1 0.0h2.1v29.6h-2.1zm2.1 5.0h2.1v24.6h-2.1zm2.1 0.0h2.1v26.8h-2.1zm2.1 1.3h2.1v25.5h-2.1zm2.1 7.4h2.1v18.1h-2.1zm2.1 0.0h2.1v28.7h-2.1zm2.1 -18.2h2.1v46.9h-2.1zm2.1 0.0h2.1v27.6h-2.1zm2.1 0.7h2.1v20.8h-2.1zm2.1 -1.3h2.1v32.0h-2.1zm2.1 0.0h2.1v32.0h-2.1zm2.1 2.7h2.1v37.3h-2.1zm2.1 4.2h2.1v33.1h-2.1zm2.1 0.9h2.1v32.7h-2.1zm2.1 0.0h2.1v33.9h-2.1zm2.1 5.1h2.1v28.8h-2.1zm2.1 0.0h2.1v15.0h-2.1zm2.1 1.5h2.1v13.5h-2.1zm2.1 -5.2h2.1v14.2h-2.1zm2.1 -1.5h2.1v29.4h-2.1zm2.1 0.0h2.1v29.4h-2.1zm2.1 5.3h2.1v23.9h-2.1zm2.1 -10.3h2.1v34.2h-2.1zm2.1 -21.0h2.1v54.4h-2.1zm2.1 0.0h2.1v31.5h-2.1zm2.1 15.7h2.1v24.1h-2.1zm2.1 2.5h2.1v23.9h-2.1zm2.1 -0.5h2.1v37.0h-2.1zm2.1 0.0h2.1v37.0h-2.1zm2.1 16.5h2.1v20.5h-2.1zm2.1 0.0h2.1v16.8h-2.1zm2.1 0.0h2.1v11.7h-2.1zm2.1 -2.9h2.1v14.5h-2.1zm2.1 -2.0h2.1v14.3h-2.1zm2.1 -7.2h2.1v23.6h-2.1zm2.1 -5.4h2.1v29.0h-2.1zm2.1 0.0h2.1v18.7h-2.1zm2.1 2.8h2.1v32.7h-2.1zm2.1 5.8h2.1v35.3h-2.1zm2.1 12.1h2.1v23.2h-2.1zm2.1 -16.2h2.1v41.9h-2.1zm2.1 0.0h2.1v41.9h-2.1zm2.1 0.0h2.1v39.0h-2.1zm2.1 3.9h2.1v35.1h-2.1zm2.1 -2.0h2.1v37.1h-2.1zm2.1 0.0h2.1v24.5h-2.1zm2.1 4.3h2.1v25.1h-2.1zm2.1 1.1h2.1v23.9h-2.1zm2.1 -3.1h2.1v43.9h-2.1zm2.1 0.0h2.1v45.8h-2.1zm2.1 18.9h2.1v26.8h-2.1zm2.1 -11.5h2.1v31.9h-2.1zm2.1 -12.2h2.1v49.8h-2.1zm2.1 0.0h2.1v49.8h-2.1zm2.1 12.2h2.1v37.6h-2.1zm2.1 0.0h2.1v23.9h-2.1zm2.1 6.1h2.1v19.1h-2.1zm2.1 -1.2h2.1v20.3h-2.1zm2.1 -2.3h2.1v18.7h-2.1zm2.1 0.0h2.1v19.3h-2.1zm2.1 -4.0h2.1v23.3h-2.1zm2.1 -4.3h2.1v20.7h-2.1zm2.1 0.0h2.1v20.7h-2.1zm2.1 0.9h2.1v23.7h-2.1zm2.1 0.0h2.1v33.8h-2.1zm2.1 8.5h2.1v25.3h-2.1zm2.1 0.0h2.1v25.3h-2.1zm2.1 0.0h2.1v13.1h-2.1zm2.1 -7.2h2.1v20.2h-2.1z" fill="#767172"/>
<path d="M329.3 1111.5h2.1v26.8h-2.1zm2.1 5.5h2.1v30.9h-2.1zm2.1 -13.5h2.1v44.4h-2.1zm2.1 0.0h2.1v44.4h-2.1zm2.1 -0.1h2.1v42.1h-2.1zm2.1 0.0h2.1v42.1h-2.1zm2.1 1.3h2.1v28.6h-2.1zm2.1 -10.7h2.1v39.3h-2.1zm2.1 -3.0h2.1v39.7h-2.1zm2.1 0.0h2.1v41.7h-2.1zm2.1 0.0h2.1v41.7h-2.1zm2.1 17.7h2.1v21.1h-2.1zm2.1 -12.8h2.1v35.3h-2.1zm2.1 0.0h2.1v35.3h-2.1zm2.1 8.1h2.1v26.1h-2.1zm2.1 2.8h2.1v26.3h-2.1zm2.1 2.1h2.1v24.9h-2.1zm2.1 1.6h2.1v28.4h-2.1zm2.1 -7.4h2.1v35.8h-2.1zm2.1 0.0h2.1v30.0h-2.1zm2.1 7.9h2.1v28.1h-2.1zm2.1 -7.7h2.1v40.5h-2.1zm2.1 0.0h2.1v40.5h-2.1zm2.1 0.9h2.1v32.3h-2.1zm2.1 7.4h2.1v31.9h-2.1zm2.1 -2.4h2.1v34.3h-2.1zm2.1 -8.3h2.1v42.6h-2.1zm2.1 -5.0h2.1v35.0h-2.1zm2.1 0.0h2.1v24.4h-2.1zm2.1 0.0h2.1v48.0h-2.1zm2.1 0.0h2.1v48.0h-2.1zm2.1 18.0h2.1v30.0h-2.1zm2.1 -5.1h2.1v26.7h-2.1zm2.1 0.0h2.1v26.7h-2.1zm2.1 -11.5h2.1v34.6h-2.1zm2.1 -3.6h2.1v38.2h-2.1zm2.1 0.0h2.1v37.1h-2.1zm2.1 15.7h2.1v18.4h-2.1zm2.1 -14.4h2.1v33.8h-2.1zm2.1 -6.8h2.1v44.5h-2.1zm2.1 0.0h2.1v44.5h-2.1zm2.1 19.6h2.1v24.9h-2.1zm2.1 -7.5h2.1v28.7h-2.1zm2.1 -16.2h2.1v45.0h-2.1zm2.1 0.0h2.1v45.0h-2.1zm2.1 30.2h2.1v14.4h-2.1zm2.1 -4.4h2.1v37.6h-2.1zm2.1 -8.1h2.1v45.7h-2.1zm2.1 0.0h2.1v45.9h-2.1zm2.1 4.9h2.1v41.0h-2.1zm2.1 7.7h2.1v33.3h-2.1zm2.1 -1.5h2.1v36.7h-2.1zm2.1 -11.9h2.1v48.6h-2.1zm2.1 0.0h2.1v34.9h-2.1zm2.1 0.0h2.1v34.9h-2.1zm2.1 2.2h2.1v33.5h-2.1zm2.1 7.2h2.1v26.3h-2.1zm2.1 -7.8h2.1v34.1h-2.1zm2.1 0.0h2.1v33.5h-2.1zm2.1 -2.1h2.1v31.9h-2.1zm2.1 0.0h2.1v31.9h-2.1zm2.1 0.0h2.1v33.1h-2.1zm2.1 9.3h2.1v40.4h-2.1zm2.1 -1.4h2.1v41.8h-2.1zm2.1 -12.9h2.1v44.2h-2.1zm2.1 0.0h2.1v46.7h-2.1zm2.1 0.0h2.1v46.7h-2.1zm2.1 22.7h2.1v17.0h-2.1zm2.1 -1.0h2.1v12.0h-2.1zm2.1 0.0h2.1v17.2h-2.1zm2.1 -2.1h2.1v19.3h-2.1zm2.1 -18.9h2.1v47.0h-2.1zm2.1 0.0h2.1v47.0h-2.1zm2.1 0.0h2.1v32.6h-2.1zm2.1 0.5h2.1v32.2h-2.1zm2.1 3.7h2.1v40.4h-2.1zm2.1 12.6h2.1v27.8h-2.1zm2.1 0.9h2.1v25.0h-2.1zm2.1 -16.9h2.1v44.7h-2.1zm2.1 0.0h2.1v44.7h-2.1zm2.1 -4.0h2.1v38.9h-2.1zm2.1 0.0h2.1v38.9h-2.1zm2.1 0.0h2.1v37.3h-2.1zm2.1 10.9h2.1v21.2h-2.1zm2.1 0.0h2.1v39.2h-2.1zm2.1 0.0h2.1v39.2h-2.1zm2.1 -19.3h2.1v56.6h-2.1zm2.1 0.0h2.1v56.6h-2.1zm2.1 0.0h2.1v53.3h-2.1zm2.1 25.6h2.1v27.7h-2.1zm2.1 -0.1h2.1v20.9h-2.1zm2.1 0.0h2.1v12.8h-2.1zm2.1 0.4h2.1v15.5h-2.1zm2.1 -1.1h2.1v37.2h-2.1zm2.1 0.0h2.1v40.5h-2.1zm2.1 -12.5h2.1v53.0h-2.1zm2.1 -6.2h2.1v31.2h-2.1zm2.1 0.0h2.1v45.2h-2.1zm2.1 -7.8h2.1v53.0h-2.1zm2.1 0.0h2.1v41.3h-2.1zm2.1 0.0h2.1v33.4h-2.1zm2.1 6.0h2.1v58.4h-2.1zm2.1 0.0h2.1v58.4h-2.1zm2.1 11.1h2.1v37.4h-2.1zm2.1 -3.8h2.1v22.0h-2.1zm2.1 0.0h2.1v20.4h-2.1zm2.1 -2.3h2.1v26.6h-2.1zm2.1 -17.9h2.1v44.5h-2.1zm2.1 0.0h2.1v62.9h-2.1zm2.1 10.7h2.1v52.2h-2.1zm2.1 0.3h2.1v51.9h-2.1zm2.1 0.0h2.1v44.0h-2.1zm2.1 -15.2h2.1v59.2h-2.1zm2.1 0.0h2.1v59.2h-2.1zm2.1 0.0h2.1v43.4h-2.1zm2.1 18.3h2.1v25.1h-2.1zm2.1 4.5h2.1v28.2h-2.1zm2.1 -2.9h2.1v31.1h-2.1zm2.1 -0.2h2.1v16.1h-2.1zm2.1 -0.5h2.1v13.0h-2.1zm2.1 -5.8h2.1v18.8h-2.1zm2.1 0.0h2.1v30.3h-2.1zm2.1 0.0h2.1v30.3h-2.1zm2.1 7.5h2.1v22.8h-2.1zm2.1 -10.5h2.1v38.2h-2.1zm2.1 0.0h2.1v38.2h-2.1zm2.1 0.0h2.1v29.7h-2.1zm2.1 4.7h2.1v25.1h-2.1zm2.1 7.8h2.1v17.6h-2.1zm2.1 0.7h2.1v16.9h-2.1zm2.1 -4.6h2.1v21.0h-2.1zm2.1 0.0h2.1v22.5h-2.1zm2.1 1.4h2.1v27.7h-2.1zm2.1 -12.1h2.1v39.8h-2.1zm2.1 0.0h2.1v39.8h-2.1zm2.1 0.7h2.1v36.9h-2.1zm2.1 0.0h2.1v24.3h-2.1zm2.1 0.0h2.1v22.4h-2.1zm2.1 1.0h2.1v20.4h-2.1zm2.1 9.6h2.1v11.9h-2.1zm2.1 -15.9h2.1v28.3h-2.1zm2.1 0.0h2.1v28.3h-2.1zm2.1 -18.3h2.1v39.4h-2.1zm2.1 0.0h2.1v45.9h-2.1zm2.1 7.1h2.1v38.8h-2.1zm2.1 12.3h2.1v37.9h-2.1zm2.1 0.0h2.1v37.9h-2.1zm2.1 14.5h2.1v31.3h-2.1zm2.1 -1.3h2.1v32.6h-2.1zm2.1 -13.5h2.1v47.2h-2.1zm2.1 0.0h2.1v47.2h-2.1zm2.1 0.0h2.1v20.7h-2.1zm2.1 6.5h2.1v41.7h-2.1zm2.1 7.2h2.1v34.4h-2.1zm2.1 -1.9h2.1v36.3h-2.1zm2.1 -6.9h2.1v25.8h-2.1zm2.1 0.0h2.1v25.9h-2.1zm2.1 -1.2h2.1v32.4h-2.1zm2.1 -6.2h2.1v38.6h-2.1zm2.1 0.0h2.1v35.7h-2.1zm2.1 9.3h2.1v28.7h-2.1zm2.1 -2.5h2.1v31.2h-2.1zm2.1 -5.4h2.1v36.6h-2.1zm2.1 0.0h2.1v27.7h-2.1zm2.1 -1.4h2.1v42.2h-2.1zm2.1 0.0h2.1v42.2h-2.1zm2.1 18.1h2.1v22.8h-2.1zm2.1 -2.2h2.1v19.5h-2.1zm2.1 0.0h2.1v23.6h-2.1zm2.1 0.0h2.1v41.2h-2.1zm2.1 8.3h2.1v32.8h-2.1zm2.1 -17.0h2.1v49.8h-2.1zm2.1 0.0h2.1v27.4h-2.1zm2.1 0.0h2.1v36.3h-2.1zm2.1 8.2h2.1v28.1h-2.1zm2.1 -12.1h2.1v43.7h-2.1zm2.1 -1.7h2.1v50.6h-2.1zm2.1 0.0h2.1v50.6h-2.1zm2.1 18.1h2.1v23.3h-2.1zm2.1 9.6h2.1v12.6h-2.1zm2.1 -4.7h2.1v27.5h-2.1zm2.1 0.0h2.1v31.0h-2.1zm2.1 -2.2h2.1v33.2h-2.1zm2.1 0.0h2.1v23.4h-2.1zm2.1 5.5h2.1v15.7h-2.1zm2.1 1.9h2.1v10.1h-2.1zm2.1 -6.3h2.1v23.6h-2.1zm2.1 -1.4h2.1v25.0h-2.1zm2.1 -4.8h2.1v29.8h-2.1zm2.1 0.0h2.1v22.5h-2.1zm2.1 -14.2h2.1v36.7h-2.1zm2.1 0.0h2.1v44.9h-2.1zm2.1 4.7h2.1v40.3h-2.1zm2.1 1.8h2.1v45.4h-2.1zm2.1 0.0h2.1v45.4h-2.1zm2.1 1.9h2.1v43.8h-2.1zm2.1 13.2h2.1v30.6h-2.1zm2.1 -4.2h2.1v34.8h-2.1zm2.1 0.0h2.1v22.0h-2.1zm2.1 0.0h2.1v41.5h-2.1zm2.1 9.2h2.1v39.5h-2.1zm2.1 -3.6h2.1v43.1h-2.1zm2.1 -4.8h2.1v32.2h-2.1zm2.1 0.0h2.1v45.5h-2.1zm2.1 11.9h2.1v33.7h-2.1zm2.1 -2.3h2.1v36.0h-2.1zm2.1 -2.6h2.1v24.4h-2.1zm2.1 -4.7h2.1v24.0h-2.1zm2.1 0.0h2.1v17.5h-2.1zm2.1 0.0h2.1v18.7h-2.1zm2.1 0.5h2.1v23.2h-2.1zm2.1 -7.4h2.1v32.7h-2.1zm2.1 -0.9h2.1v47.7h-2.1zm2.1 -8.7h2.1v56.4h-2.1zm2.1 0.0h2.1v45.5h-2.1zm2.1 13.8h2.1v30.2h-2.1zm2.1 -12.7h2.1v43.0h-2.1zm2.1 0.0h2.1v30.4h-2.1zm2.1 0.7h2.1v29.7h-2.1zm2.1 14.8h2.1v23.9h-2.1zm2.1 7.6h2.1v16.4h-2.1zm2.1 -7.0h2.1v26.1h-2.1zm2.1 -4.7h2.1v32.1h-2.1zm2.1 0.0h2.1v32.1h-2.1zm2.1 -12.7h2.1v44.4h-2.1zm2.1 0.0h2.1v33.3h-2.1zm2.1 0.0h2.1v43.0h-2.1zm2.1 18.6h2.1v24.4h-2.1zm2.1 -9.0h2.1v33.4h-2.1zm2.1 -0.1h2.1v32.2h-2.1zm2.1 0.0h2.1v33.3h-2.1zm2.1 7.0h2.1v27.9h-2.1zm2.1 5.2h2.1v24.5h-2.1zm2.1 6.2h2.1v18.3h-2.1zm2.1 -4.9h2.1v17.9h-2.1zm2.1 0.0h2.1v17.4h-2.1zm2.1 0.0h2.1v19.6h-2.1zm2.1 -3.4h2.1v23.1h-2.1zm2.1 -6.1h2.1v29.2h-2.1zm2.1 -3.1h2.1v18.5h-2.1zm2.1 0.0h2.1v37.5h-2.1zm2.1 10.9h2.1v30.3h-2.1zm2.1 -0.0h2.1v30.3h-2.1zm2.1 -0.7h2.1v28.3h-2.1zm2.1 -2.6h2.1v20.9h-2.1zm2.1 -14.1h2.1v31.5h-2.1zm2.1 0.0h2.1v37.8h-2.1zm2.1 3.3h2.1v34.5h-2.1zm2.1 0.0h2.1v33.7h-2.1zm2.1 3.5h2.1v27.8h-2.1zm2.1 4.1h2.1v23.7h-2.1zm2.1 2.0h2.1v23.8h-2.1zm2.1 -14.0h2.1v37.8h-2.1zm2.1 -0.9h2.1v50.3h-2.1zm2.1 0.0h2.1v50.3h-2.1zm2.1 0.0h2.1v38.8h-2.1zm2.1 24.8h2.1v20.6h-2.1zm2.1 1.5h2.1v19.0h-2.1zm2.1 -6.4h2.1v29.5h-2.1zm2.1 0.0h2.1v29.5h-2.1zm2.1 -7.1h2.1v36.6h-2.1zm2.1 0.0h2.1v32.6h-2.1zm2.1 -2.5h2.1v34.3h-2.1zm2.1 0.0h2.1v34.3h-2.1zm2.1 2.0h2.1v20.9h-2.1zm2.1 0.0h2.1v20.9h-2.1zm2.1 -6.2h2.1v27.3h-2.1zm2.1 -9.2h2.1v36.5h-2.1zm2.1 0.0h2.1v42.6h-2.1zm2.1 0.0h2.1v53.3h-2.1zm2.1 15.4h2.1v37.9h-2.1zm2.1 0.4h2.1v37.6h-2.1zm2.1 -13.9h2.1v43.8h-2.1zm2.1 0.0h2.1v43.8h-2.1zm2.1 5.5h2.1v38.3h-2.1zm2.1 0.0h2.1v38.8h-2.1zm2.1 -3.9h2.1v42.6h-2.1zm2.1 0.0h2.1v36.5h-2.1zm2.1 7.3h2.1v25.0h-2.1zm2.1 0.0h2.1v25.0h-2.1zm2.1 0.0h2.1v21.2h-2.1zm2.1 0.2h2.1v23.0h-2.1zm2.1 7.0h2.1v16.1h-2.1zm2.1 0.0h2.1v24.5h-2.1zm2.1 -1.0h2.1v25.5h-2.1zm2.1 0.0h2.1v33.4h-2.1zm2.1 -0.9h2.1v34.4h-2.1zm2.1 -9.8h2.1v44.2h-2.1zm2.1 0.0h2.1v28.7h-2.1zm2.1 9.4h2.1v19.0h-2.1zm2.1 -14.8h2.1v33.8h-2.1zm2.1 -1.8h2.1v35.5h-2.1zm2.1 0.0h2.1v37.4h-2.1zm2.1 17.8h2.1v37.6h-2.1zm2.1 -7.8h2.1v45.4h-2.1zm2.1 -1.3h2.1v46.7h-2.1zm2.1 -3.2h2.1v25.7h-2.1zm2.1 0.0h2.1v27.4h-2.1zm2.1 2.6h2.1v24.8h-2.1zm2.1 0.0h2.1v19.4h-2.1zm2.1 -5.1h2.1v37.9h-2.1zm2.1 0.0h2.1v37.9h-2.1zm2.1 -1.8h2.1v39.7h-2.1zm2.1 0.0h2.1v27.7h-2.1zm2.1 0.0h2.1v21.6h-2.1zm2.1 -6.7h2.1v26.9h-2.1zm2.1 0.0h2.1v27.9h-2.1zm2.1 3.3h2.1v24.6h-2.1zm2.1 2.7h2.1v21.7h-2.1zm2.1 0.0h2.1v19.3h-2.1zm2.1 -2.5h2.1v21.8h-2.1zm2.1 -8.6h2.1v42.1h-2.1zm2.1 0.0h2.1v42.1h-2.1zm2.1 -4.8h2.1v46.8h-2.1zm2.1 0.0h2.1v29.3h-2.1zm2.1 0.0h2.1v38.4h-2.1zm2.1 7.8h2.1v30.6h-2.1zm2.1 -13.1h2.1v43.7h-2.1zm2.1 0.0h2.1v34.0h-2.1zm2.1 0.0h2.1v34.0h-2.1zm2.1 2.5h2.1v31.5h-2.1zm2.1 -0.4h2.1v25.9h-2.1zm2.1 0.0h2.1v25.9h-2.1zm2.1 -5.2h2.1v31.2h-2.1zm2.1 -11.0h2.1v39.0h-2.1zm2.1 0.0h2.1v39.0h-2.1zm2.1 -7.4h2.1v36.6h-2.1zm2.1 0.0h2.1v29.3h-2.1zm2.1 -18.5h2.1v41.4h-2.1zm2.1 0.0h2.1v46.0h-2.1zm2.1 12.9h2.1v33.0h-2.1zm2.1 3.0h2.1v30.1h-2.1zm2.1 -1.0h2.1v25.3h-2.1zm2.1 -10.8h2.1v36.2h-2.1zm2.1 0.0h2.1v33.6h-2.1zm2.1 -11.3h2.1v39.9h-2.1zm2.1 0.0h2.1v39.9h-2.1zm2.1 -9.2h2.1v49.0h-2.1zm2.1 0.0h2.1v32.4h-2.1zm2.1 0.5h2.1v30.7h-2.1zm2.1 -13.2h2.1v33.8h-2.1zm2.1 0.0h2.1v33.8h-2.1zm2.1 0.0h2.1v26.3h-2.1zm2.1 -8.8h2.1v32.3h-2.1zm2.1 -5.5h2.1v30.9h-2.1zm2.1 -11.2h2.1v42.1h-2.1zm2.1 -10.9h2.1v53.0h-2.1zm2.1 -9.4h2.1v34.5h-2.1zm2.1 -4.3h2.1v22.3h-2.1zm2.1 -6.7h2.1v23.3h-2.1zm2.1 -30.2h2.1v53.5h-2.1zm2.1 0.0h2.1v48.2h-2.1zm2.1 7.2h2.1v41.1h-2.1zm2.1 -4.2h2.1v34.4h-2.1zm2.1 -19.8h2.1v37.3h-2.1zm2.1 -17.6h2.1v54.8h-2.1zm2.1 -12.3h2.1v41.4h-2.1zm2.1 0.0h2.1v31.4h-2.1zm2.1 -16.3h2.1v40.1h-2.1zm2.1 -13.8h2.1v48.5h-2.1zm2.1 -5.0h2.1v40.7h-2.1zm2.1 -20.6h2.1v53.4h-2.1zm2.1 -3.1h2.1v34.1h-2.1zm2.1 0.0h2.1v29.4h-2.1zm2.1 -23.9h2.1v53.3h-2.1zm2.1 0.0h2.1v51.2h-2.1zm2.1 -14.7h2.1v42.0h-2.1zm2.1 -6.7h2.1v48.7h-2.1zm2.1 -28.5h2.1v47.9h-2.1zm2.1 0.0h2.1v42.7h-2.1zm2.1 -13.6h2.1v36.7h-2.1zm2.1 -21.9h2.1v52.8h-2.1zm2.1 -12.3h2.1v45.1h-2.1zm2.1 -3.0h2.1v33.3h-2.1zm2.1 -1.0h2.1v32.3h-2.1zm2.1 -42.8h2.1v53.5h-2.1zm2.1 -7.4h2.1v55.4h-2.1zm2.1 -1.2h2.1v43.3h-2.1zm2.1 -16.4h2.1v36.8h-2.1zm2.1 -25.1h2.1v56.0h-2.1zm2.1 -18.2h2.1v62.2h-2.1zm2.1 -8.2h2.1v51.6h-2.1zm2.1 -1.0h2.1v36.6h-2.1zm2.1 -30.2h2.1v52.5h-2.1zm2.1 -16.8h2.1v60.7h-2.1zm2.1 0.0h2.1v27.7h-2.1zm2.1 -7.6h2.1v34.6h-2.1zm2.1 -12.9h2.1v36.6h-2.1zm2.1 -17.9h2.1v46.6h-2.1zm2.1 -15.8h2.1v49.6h-2.1zm2.1 -20.8h2.1v48.0h-2.1zm2.1 -6.8h2.1v45.4h-2.1zm2.1 -34.3h2.1v65.8h-2.1zm2.1 -15.7h2.1v60.0h-2.1zm2.1 0.0h2.1v42.7h-2.1zm2.1 -0.4h2.1v29.2h-2.1zm2.1 -25.1h2.1v54.1h-2.1zm2.1 -13.0h2.1v59.1h-2.1zm2.1 -10.3h2.1v53.1h-2.1zm2.1 -5.1h2.1v49.7h-2.1zm2.1 -43.0h2.1v60.2h-2.1zm2.1 0.0h2.1v47.7h-2.1zm2.1 -26.8h2.1v56.2h-2.1zm2.1 0.0h2.1v59.7h-2.1zm2.1 0.0h2.1v59.7h-2.1zm2.1 -7.1h2.1v59.5h-2.1zm2.1 -23.9h2.1v83.4h-2.1zm2.1 0.0h2.1v30.5h-2.1zm2.1 0.0h2.1v42.4h-2.1zm2.1 0.5h2.1v42.0h-2.1zm2.1 -10.4h2.1v52.4h-2.1zm2.1 -5.7h2.1v55.4h-2.1zm2.1 0.0h2.1v48.1h-2.1zm2.1 -6.5h2.1v54.6h-2.1zm2.1 -11.2h2.1v65.8h-2.1zm2.1 -11.9h2.1v45.9h-2.1zm2.1 0.0h2.1v41.6h-2.1zm2.1 8.5h2.1v46.8h-2.1zm2.1 0.0h2.1v46.8h-2.1zm2.1 0.0h2.1v28.6h-2.1zm2.1 -13.8h2.1v42.4h-2.1zm2.1 -4.7h2.1v41.2h-2.1zm2.1 0.0h2.1v61.6h-2.1zm2.1 0.0h2.1v64.9h-2.1zm2.1 27.3h2.1v37.6h-2.1zm2.1 -6.5h2.1v43.7h-2.1zm2.1 0.0h2.1v26.8h-2.1zm2.1 -7.2h2.1v31.0h-2.1zm2.1 -16.3h2.1v74.9h-2.1zm2.1 0.0h2.1v74.9h-2.1zm2.1 0.0h2.1v54.9h-2.1zm2.1 28.2h2.1v31.8h-2.1zm2.1 0.0h2.1v31.8h-2.1zm2.1 8.5h2.1v29.2h-2.1zm2.1 0.0h2.1v42.9h-2.1zm2.1 3.8h2.1v39.1h-2.1zm2.1 -4.1h2.1v43.1h-2.1zm2.1 0.0h2.1v76.9h-2.1zm2.1 0.0h2.1v76.9h-2.1zm2.1 31.8h2.1v38.0h-2.1zm2.1 8.9h2.1v41.1h-2.1zm2.1 14.2h2.1v41.0h-2.1zm2.1 11.2h2.1v40.3h-2.1zm2.1 13.1h2.1v45.9h-2.1zm2.1 0.7h2.1v53.5h-2.1zm2.1 25.8h2.1v27.7h-2.1zm2.1 5.8h2.1v24.7h-2.1zm2.1 6.6h2.1v61.5h-2.1zm2.1 0.0h2.1v71.2h-2.1zm2.1 31.6h2.1v39.6h-2.1zm2.1 0.0h2.1v49.0h-2.1zm2.1 11.0h2.1v69.6h-2.1zm2.1 22.5h2.1v67.2h-2.1zm2.1 31.4h2.1v40.2h-2.1zm2.1 10.5h2.1v32.2h-2.1zm2.1 0.0h2.1v32.2h-2.1zm2.1 0.0h2.1v64.6h-2.1zm2.1 4.5h2.1v63.5h-2.1zm2.1 32.5h2.1v38.1h-2.1zm2.1 7.5h2.1v30.5h-2.1zm2.1 0.0h2.1v58.7h-2.1zm2.1 15.5h2.1v53.0h-2.1zm2.1 29.5h2.1v39.0h-2.1zm2.1 0.0h2.1v46.9h-2.1zm2.1 27.0h2.1v26.7h-2.1zm2.1 12.5h2.1v30.1h-2.1zm2.1 5.7h2.1v56.7h-2.1zm2.1 10.2h2.1v46.5h-2.1zm2.1 12.9h2.1v31.3h-2.1zm2.1 1.5h2.1v44.6h-2.1zm2.1 11.0h2.1v46.3h-2.1zm2.1 22.0h2.1v35.5h-2.1zm2.1 14.8h2.1v44.9h-2.1zm2.1 4.4h2.1v47.9h-2.1zm2.1 22.6h2.1v29.2h-2.1zm2.1 6.3h2.1v51.4h-2.1zm2.1 11.5h2.1v43.6h-2.1zm2.1 17.0h2.1v26.7h-2.1zm2.1 2.7h2.1v47.7h-2.1zm2.1 0.4h2.1v48.5h-2.1zm2.1 27.9h2.1v30.0h-2.1zm2.1 13.2h2.1v25.9h-2.1zm2.1 -3.6h2.1v60.6h-2.1zm2.1 0.0h2.1v60.6h-2.1zm2.1 23.9h2.1v36.6h-2.1zm2.1 5.0h2.1v37.3h-2.1zm2.1 5.2h2.1v42.3h-2.1zm2.1 0.0h2.1v51.4h-2.1zm2.1 32.7h2.1v39.6h-2.1zm2.1 4.2h2.1v35.4h-2.1zm2.1 6.1h2.1v45.3h-2.1zm2.1 0.0h2.1v46.9h-2.1zm2.1 16.0h2.1v30.9h-2.1zm2.1 0.0h2.1v37.2h-2.1zm2.1 10.6h2.1v43.2h-2.1zm2.1 2.1h2.1v44.6h-2.1zm2.1 0.0h2.1v44.6h-2.1zm2.1 15.6h2.1v48.8h-2.1zm2.1 0.0h2.1v49.3h-2.1zm2.1 19.7h2.1v54.1h-2.1zm2.1 0.0h2.1v54.1h-2.1zm2.1 2.5h2.1v58.8h-2.1zm2.1 13.6h2.1v48.2h-2.1zm2.1 24.2h2.1v24.0h-2.1zm2.1 0.0h2.1v27.3h-2.1zm2.1 9.3h2.1v18.0h-2.1zm2.1 0.0h2.1v32.9h-2.1zm2.1 -1.1h2.1v34.0h-2.1zm2.1 0.0h2.1v36.2h-2.1zm2.1 1.3h2.1v51.5h-2.1zm2.1 18.7h2.1v32.8h-2.1zm2.1 0.0h2.1v35.0h-2.1zm2.1 14.3h2.1v35.7h-2.1zm2.1 -2.3h2.1v38.0h-2.1zm2.1 0.0h2.1v34.0h-2.1zm2.1 0.0h2.1v71.4h-2.1zm2.1 24.4h2.1v47.0h-2.1zm2.1 13.0h2.1v34.0h-2.1zm2.1 1.5h2.1v18.5h-2.1zm2.1 2.6h2.1v18.7h-2.1zm2.1 0.0h2.1v41.3h-2.1zm2.1 3.7h2.1v37.7h-2.1zm2.1 11.2h2.1v26.4h-2.1zm2.1 0.0h2.1v22.5h-2.1zm2.1 0.0h2.1v47.2h-2.1zm2.1 6.6h2.1v40.6h-2.1zm2.1 -5.8h2.1v34.3h-2.1zm2.1 -0.8h2.1v35.1h-2.1zm2.1 0.0h2.1v42.0h-2.1zm2.1 13.1h2.1v28.9h-2.1zm2.1 0.0h2.1v33.6h-2.1zm2.1 0.0h2.1v49.7h-2.1zm2.1 11.7h2.1v38.1h-2.1zm2.1 -2.6h2.1v40.7h-2.1zm2.1 0.0h2.1v29.0h-2.1zm2.1 9.6h2.1v24.1h-2.1zm2.1 0.0h2.1v24.1h-2.1zm2.1 -15.2h2.1v37.5h-2.1zm2.1 0.0h2.1v34.5h-2.1zm2.1 -3.5h2.1v32.8h-2.1zm2.1 0.0h2.1v57.6h-2.1zm2.1 0.0h2.1v57.6h-2.1zm2.1 34.4h2.1v32.1h-2.1zm2.1 8.1h2.1v24.0h-2.1zm2.1 -5.1h2.1v19.4h-2.1zm2.1 0.0h2.1v20.0h-2.1zm2.1 4.0h2.1v21.1h-2.1zm2.1 0.0h2.1v21.5h-2.1zm2.1 0.0h2.1v23.3h-2.1zm2.1 -1.4h2.1v25.0h-2.1zm2.1 -17.7h2.1v42.8h-2.1zm2.1 -1.6h2.1v35.3h-2.1zm2.1 0.0h2.1v37.7h-2.1zm2.1 0.0h2.1v59.3h-2.1zm2.1 25.4h2.1v33.8h-2.1zm2.1 13.6h2.1v20.2h-2.1zm2.1 0.0h2.1v19.8h-2.1zm2.1 0.4h2.1v19.6h-2.1zm2.1 -15.8h2.1v35.4h-2.1zm2.1 0.0h2.1v45.6h-2.1zm2.1 6.7h2.1v38.9h-2.1zm2.1 1.7h2.1v37.2h-2.1zm2.1 -16.5h2.1v41.4h-2.1zm2.1 0.0h2.1v30.8h-2.1zm2.1 1.1h2.1v38.4h-2.1zm2.1 2.2h2.1v49.7h-2.1zm2.1 29.1h2.1v21.6h-2.1zm2.1 -12.2h2.1v38.9h-2.1zm2.1 0.0h2.1v38.9h-2.1zm2.1 14.0h2.1v39.3h-2.1zm2.1 -17.6h2.1v56.9h-2.1zm2.1 0.0h2.1v40.7h-2.1zm2.1 0.0h2.1v27.9h-2.1zm2.1 13.2h2.1v23.2h-2.1zm2.1 2.9h2.1v24.8h-2.1zm2.1 1.3h2.1v24.7h-2.1zm2.1 2.6h2.1v26.3h-2.1zm2.1 -6.3h2.1v32.6h-2.1zm2.1 0.0h2.1v58.2h-2.1zm2.1 3.3h2.1v56.1h-2.1zm2.1 12.8h2.1v43.3h-2.1zm2.1 -2.5h2.1v28.4h-2.1zm2.1 0.0h2.1v26.5h-2.1zm2.1 3.0h2.1v23.5h-2.1zm2.1 0.0h2.1v15.6h-2.1zm2.1 -1.3h2.1v21.8h-2.1zm2.1 -2.2h2.1v23.9h-2.1zm2.1 0.0h2.1v23.0h-2.1zm2.1 0.6h2.1v26.5h-2.1zm2.1 0.0h2.1v26.5h-2.1zm2.1 -2.0h2.1v28.6h-2.1zm2.1 0.0h2.1v33.6h-2.1zm2.1 -6.2h2.1v39.8h-2.1zm2.1 -1.3h2.1v41.1h-2.1zm2.1 0.0h2.1v25.9h-2.1zm2.1 0.1h2.1v31.9h-2.1zm2.1 15.3h2.1v23.3h-2.1zm2.1 -1.2h2.1v24.5h-2.1zm2.1 -22.4h2.1v46.8h-2.1zm2.1 -0.6h2.1v45.3h-2.1zm2.1 0.0h2.1v34.3h-2.1zm2.1 0.0h2.1v34.3h-2.1zm2.1 10.7h2.1v35.5h-2.1zm2.1 5.6h2.1v30.0h-2.1zm2.1 2.0h2.1v20.7h-2.1zm2.1 -1.9h2.1v34.1h-2.1zm2.1 0.0h2.1v35.6h-2.1zm2.1 -11.6h2.1v47.2h-2.1zm2.1 0.0h2.1v43.6h-2.1zm2.1 0.2h2.1v43.4h-2.1zm2.1 0.0h2.1v46.7h-2.1zm2.1 5.2h2.1v41.4h-2.1zm2.1 -0.3h2.1v32.4h-2.1zm2.1 0.0h2.1v29.6h-2.1zm2.1 6.3h2.1v35.6h-2.1zm2.1 0.0h2.1v35.6h-2.1zm2.1 7.3h2.1v28.4h-2.1zm2.1 0.0h2.1v39.6h-2.1zm2.1 5.3h2.1v44.5h-2.1zm2.1 -7.1h2.1v51.7h-2.1zm2.1 0.0h2.1v35.4h-2.1zm2.1 1.9h2.1v33.5h-2.1zm2.1 9.0h2.1v23.5h-2.1zm2.1 -0.9h2.1v19.4h-2.1zm2.1 -13.6h2.1v33.0h-2.1zm2.1 0.0h2.1v35.7h-2.1zm2.1 11.9h2.1v23.8h-2.1zm2.1 -4.0h2.1v27.7h-2.1zm2.1 0.0h2.1v24.2h-2.1zm2.1 0.5h2.1v23.7h-2.1zm2.1 2.6h2.1v21.1h-2.1zm2.1 -8.9h2.1v20.3h-2.1zm2.1 0.0h2.1v33.2h-2.1zm2.1 0.0h2.1v33.2h-2.1zm2.1 11.8h2.1v27.7h-2.1zm2.1 0.0h2.1v30.1h-2.1zm2.1 1.1h2.1v29.1h-2.1zm2.1 0.0h2.1v11.1h-2.1zm2.1 -14.6h2.1v24.3h-2.1zm2.1 0.0h2.1v24.3h-2.1zm2.1 3.1h2.1v20.6h-2.1zm2.1 8.7h2.1v18.5h-2.1zm2.1 -8.0h2.1v31.9h-2.1zm2.1 0.0h2.1v49.6h-2.1zm2.1 0.0h2.1v49.6h-2.1zm2.1 3.2h2.1v33.8h-2.1zm2.1 2.5h2.1v31.3h-2.1zm2.1 -14.1h2.1v36.4h-2.1zm2.1 0.0h2.1v56.4h-2.1zm2.1 2.0h2.1v54.4h-2.1zm2.1 16.0h2.1v38.4h-2.1zm2.1 -1.7h2.1v30.8h-2.1zm2.1 -2.0h2.1v32.8h-2.1zm2.1 -16.3h2.1v34.5h-2.1zm2.1 0.0h2.1v55.3h-2.1zm2.1 17.1h2.1v38.2h-2.1zm2.1 0.0h2.1v38.2h-2.1zm2.1 2.0h2.1v26.3h-2.1zm2.1 0.0h2.1v25.2h-2.1zm2.1 4.1h2.1v16.3h-2.1zm2.1 -4.7h2.1v21.0h-2.1zm2.1 -6.9h2.1v27.9h-2.1zm2.1 0.0h2.1v44.5h-2.1zm2.1 0.1h2.1v46.4h-2.1zm2.1 12.6h2.1v33.8h-2.1zm2.1 -1.4h2.1v35.2h-2.1zm2.1 -3.0h2.1v38.2h-2.1zm2.1 -12.0h2.1v44.1h-2.1zm2.1 0.0h2.1v37.2h-2.1zm2.1 0.0h2.1v44.3h-2.1zm2.1 4.3h2.1v40.0h-2.1zm2.1 0.0h2.1v24.7h-2.1zm2.1 0.0h2.1v33.4h-2.1zm2.1 5.4h2.1v27.9h-2.1zm2.1 3.2h2.1v24.8h-2.1zm2.1 0.0h2.1v22.0h-2.1zm2.1 0.0h2.1v18.2h-2.1zm2.1 0.4h2.1v17.8h-2.1zm2.1 0.7h2.1v17.1h-2.1zm2.1 0.0h2.1v26.6h-2.1zm2.1 -3.1h2.1v29.8h-2.1zm2.1 0.0h2.1v29.0h-2.1zm2.1 0.0h2.1v38.6h-2.1zm2.1 4.4h2.1v34.2h-2.1zm2.1 4.0h2.1v30.2h-2.1z" fill="#000"/>
</g>
<line x1="270.8" y1="83" x2="270.8" y2="1158" stroke="#363636" stroke-width="3.4"/>
<path d="M259.3 1157.00H270.8M259.3 1134.17H270.8M259.3 1111.34H270.8M259.3 1088.51H270.8M259.3 1065.68H270.8M259.3 1042.85H270.8M259.3 1020.02H270.8M259.3 997.19H270.8M259.3 974.36H270.8M259.3 951.53H270.8M259.3 928.70H270.8M259.3 905.87H270.8M259.3 883.04H270.8M259.3 860.21H270.8M259.3 837.38H270.8M259.3 814.55H270.8M259.3 791.72H270.8M259.3 768.89H270.8M259.3 746.06H270.8M259.3 723.23H270.8M259.3 700.40H270.8M259.3 677.57H270.8M259.3 654.74H270.8M259.3 631.91H270.8M259.3 609.08H270.8M259.3 586.25H270.8M259.3 563.42H270.8M259.3 540.59H270.8M259.3 517.76H270.8M259.3 494.93H270.8M259.3 472.10H270.8M259.3 449.27H270.8M259.3 426.44H270.8M259.3 403.61H270.8M259.3 380.78H270.8M259.3 357.95H270.8M259.3 335.12H270.8M259.3 312.29H270.8M259.3 289.46H270.8M259.3 266.63H270.8M259.3 243.80H270.8M259.3 220.97H270.8M259.3 198.14H270.8M259.3 175.31H270.8M259.3 152.48H270.8M259.3 129.65H270.8M259.3 106.82H270.8M259.3 83.99H270.8" stroke="#363636" stroke-width="3.6" fill="none"/>
<g style="font-family:'Liberation Serif','Times New Roman',serif" font-size="53.8" text-anchor="end" fill="#111">
<text transform="translate(230.2 1174.2) scale(0.94 1)">0</text>
<text transform="translate(230.2 1060.0) scale(0.94 1)">500</text>
<text transform="translate(230.2 945.9) scale(0.94 1)">1000</text>
<text transform="translate(230.2 831.8) scale(0.94 1)">1500</text>
<text transform="translate(230.2 717.6) scale(0.94 1)">2000</text>
<text transform="translate(230.2 603.5) scale(0.94 1)">2500</text>
<text transform="translate(230.2 489.3) scale(0.94 1)">3000</text>
<text transform="translate(230.2 375.2) scale(0.94 1)">3500</text>
<text transform="translate(230.2 261.0) scale(0.94 1)">4000</text>
<text transform="translate(230.2 146.9) scale(0.94 1)">4500</text>
</g>
<g style="font-family:'Liberation Serif','Times New Roman',serif" font-size="54.5" text-anchor="middle" fill="#111">
<text transform="translate(272.6 1232.8) scale(0.93 1)">150</text>
<text transform="translate(474.8 1232.8) scale(0.93 1)">250</text>
<text transform="translate(677.1 1232.8) scale(0.93 1)">350</text>
<text transform="translate(879.3 1232.8) scale(0.93 1)">450</text>
<text transform="translate(1081.5 1232.8) scale(0.93 1)">550</text>
<text transform="translate(1283.8 1232.8) scale(0.93 1)">650</text>
<text transform="translate(1486.0 1232.8) scale(0.93 1)">750</text>
<text transform="translate(1688.2 1232.8) scale(0.93 1)">850</text>
</g>
<text style="font-family:'Liberation Serif','Times New Roman',serif" font-size="82.2" fill="#000" transform="translate(82.3 838.6) rotate(-90)">Intensity[a.u.]</text>
<text style="font-family:'Liberation Serif','Times New Roman',serif" font-size="82.8" fill="#000" x="751.5" y="1330.3">Wave Length[nm]</text>
<rect x="411.4" y="162" width="132.5" height="26.9" fill="#d1cecf"/>
<rect x="411.4" y="240.3" width="132.5" height="26.4" fill="#767172"/>
<rect x="411.4" y="318.8" width="132.5" height="26.4" fill="#000"/>
<g style="font-family:'Liberation Serif','Times New Roman',serif" font-size="70.8" fill="#000">
<text transform="translate(589.8 196.3) scale(0.931 1)">0 sccm</text>
<text transform="translate(590.3 276.1) scale(0.939 1)">3000 sccm</text>
<text transform="translate(590.3 354.8) scale(0.939 1)">6000 sccm</text>
</g>
<g fill="none" stroke="#6e6e6e" stroke-width="2.3" stroke-linejoin="round">
<path d="M1023.7 172 L1025.9 142.0 Q1026.7 136.0 1030.2 136.0 L1172.2 136.0 Q1174.9 136.0 1175.2 131.0 L1175.7 96 L1176.2 131.0 Q1176.5 136.0 1179.2 136.0 L1321.8 136.0 Q1325.3 136.0 1326.1 142.0 L1328.3 172"/>
<path d="M1411.7 402.2 L1413.9 378.0 Q1414.7 372.0 1418.2 372.0 L1540.9 372.0 Q1543.6 372.0 1543.9 367.0 L1544.4 337.3 L1544.9 367.0 Q1545.2 372.0 1547.9 372.0 L1667.8 372.0 Q1671.3 372.0 1672.1 378.0 L1674.3 402.2"/>
<path d="M531 1021.7 L533.2 998.7 Q534.0 992.7 537.5 992.7 L646.9 992.7 Q649.6 992.7 649.9 987.7 L650.4 956.4 L650.9 987.7 Q651.2 992.7 653.9 992.7 L763.0 992.7 Q766.5 992.7 767.3 998.7 L769.5 1021.7"/>
</g>
<g style="font-family:'Liberation Serif','Times New Roman',serif" fill="#000">
<text x="1147" y="80.7" font-size="95">F</text>
<text x="1471" y="292.7" font-size="95">Ar</text>
<text x="565.5" y="902.3" font-size="95">CF</text>
<text x="677" y="924.9" font-size="65">n</text>
</g>
</g>
</svg></body></html>
